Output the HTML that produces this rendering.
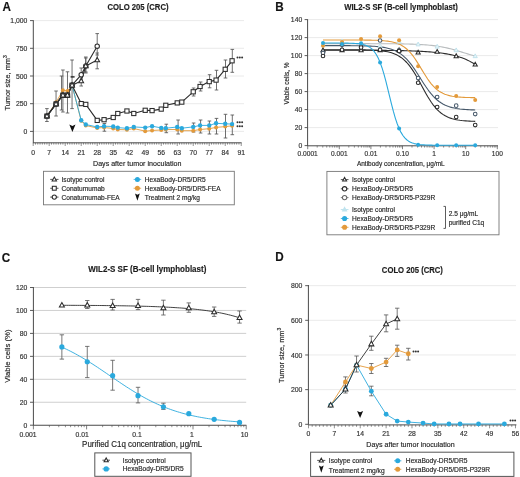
<!DOCTYPE html>
<html><head><meta charset="utf-8"><style>
html,body{margin:0;padding:0;background:#fff;}
svg{display:block;font-family:"Liberation Sans", sans-serif;will-change:transform;}
text{stroke:#333;stroke-width:0.18px;}
</style></head><body>
<svg width="520" height="477" viewBox="0 0 520 477">
<rect width="520" height="477" fill="#fff"/>
<text x="0" y="0" font-size="13" font-weight="bold" fill="#111" transform="translate(2.5 11.2) scale(0.9 1)">A</text>
<text x="0" y="0" font-size="8.56" text-anchor="middle" font-weight="bold" fill="#1a1a1a" transform="translate(138 9.91) scale(0.9 1)" >COLO 205 (CRC)</text>
<line x1="33.5" y1="131.4" x2="244" y2="131.4" stroke="#e4e4e4" stroke-width="0.8" />
<line x1="33.5" y1="103.7" x2="244" y2="103.7" stroke="#e4e4e4" stroke-width="0.8" />
<line x1="33.5" y1="76" x2="244" y2="76" stroke="#e4e4e4" stroke-width="0.8" />
<line x1="33.5" y1="48.3" x2="244" y2="48.3" stroke="#e4e4e4" stroke-width="0.8" />
<line x1="33.5" y1="20.6" x2="244" y2="20.6" stroke="#e4e4e4" stroke-width="0.8" />
<line x1="33.3" y1="20.2" x2="33.3" y2="143.2" stroke="#4a4a4a" stroke-width="1.0" />
<line x1="30" y1="131.4" x2="33.3" y2="131.4" stroke="#4a4a4a" stroke-width="0.9" />
<text x="0" y="0" font-size="7.56" text-anchor="end" font-weight="normal" fill="#333" transform="translate(27.4 133.97) scale(0.9 1)" >0</text>
<line x1="30" y1="103.7" x2="33.3" y2="103.7" stroke="#4a4a4a" stroke-width="0.9" />
<text x="0" y="0" font-size="7.56" text-anchor="end" font-weight="normal" fill="#333" transform="translate(27.4 106.27) scale(0.9 1)" >250</text>
<line x1="30" y1="76" x2="33.3" y2="76" stroke="#4a4a4a" stroke-width="0.9" />
<text x="0" y="0" font-size="7.56" text-anchor="end" font-weight="normal" fill="#333" transform="translate(27.4 78.57) scale(0.9 1)" >500</text>
<line x1="30" y1="48.3" x2="33.3" y2="48.3" stroke="#4a4a4a" stroke-width="0.9" />
<text x="0" y="0" font-size="7.56" text-anchor="end" font-weight="normal" fill="#333" transform="translate(27.4 50.87) scale(0.9 1)" >750</text>
<line x1="30" y1="20.6" x2="33.3" y2="20.6" stroke="#4a4a4a" stroke-width="0.9" />
<text x="0" y="0" font-size="7.56" text-anchor="end" font-weight="normal" fill="#333" transform="translate(27.4 23.17) scale(0.9 1)" >1,000</text>
<line x1="33.3" y1="142.8" x2="241.6" y2="142.8" stroke="#4a4a4a" stroke-width="1.0" />
<line x1="33.2" y1="142.8" x2="33.2" y2="146" stroke="#4a4a4a" stroke-width="0.6" />
<line x1="35.49" y1="142.8" x2="35.49" y2="144.6" stroke="#4a4a4a" stroke-width="0.6" />
<line x1="37.77" y1="142.8" x2="37.77" y2="144.6" stroke="#4a4a4a" stroke-width="0.6" />
<line x1="40.06" y1="142.8" x2="40.06" y2="144.6" stroke="#4a4a4a" stroke-width="0.6" />
<line x1="42.34" y1="142.8" x2="42.34" y2="144.6" stroke="#4a4a4a" stroke-width="0.6" />
<line x1="44.63" y1="142.8" x2="44.63" y2="144.6" stroke="#4a4a4a" stroke-width="0.6" />
<line x1="46.92" y1="142.8" x2="46.92" y2="144.6" stroke="#4a4a4a" stroke-width="0.6" />
<line x1="49.2" y1="142.8" x2="49.2" y2="146" stroke="#4a4a4a" stroke-width="0.6" />
<line x1="51.49" y1="142.8" x2="51.49" y2="144.6" stroke="#4a4a4a" stroke-width="0.6" />
<line x1="53.77" y1="142.8" x2="53.77" y2="144.6" stroke="#4a4a4a" stroke-width="0.6" />
<line x1="56.06" y1="142.8" x2="56.06" y2="144.6" stroke="#4a4a4a" stroke-width="0.6" />
<line x1="58.35" y1="142.8" x2="58.35" y2="144.6" stroke="#4a4a4a" stroke-width="0.6" />
<line x1="60.63" y1="142.8" x2="60.63" y2="144.6" stroke="#4a4a4a" stroke-width="0.6" />
<line x1="62.92" y1="142.8" x2="62.92" y2="144.6" stroke="#4a4a4a" stroke-width="0.6" />
<line x1="65.2" y1="142.8" x2="65.2" y2="146" stroke="#4a4a4a" stroke-width="0.6" />
<line x1="67.49" y1="142.8" x2="67.49" y2="144.6" stroke="#4a4a4a" stroke-width="0.6" />
<line x1="69.78" y1="142.8" x2="69.78" y2="144.6" stroke="#4a4a4a" stroke-width="0.6" />
<line x1="72.06" y1="142.8" x2="72.06" y2="144.6" stroke="#4a4a4a" stroke-width="0.6" />
<line x1="74.35" y1="142.8" x2="74.35" y2="144.6" stroke="#4a4a4a" stroke-width="0.6" />
<line x1="76.63" y1="142.8" x2="76.63" y2="144.6" stroke="#4a4a4a" stroke-width="0.6" />
<line x1="78.92" y1="142.8" x2="78.92" y2="144.6" stroke="#4a4a4a" stroke-width="0.6" />
<line x1="81.21" y1="142.8" x2="81.21" y2="146" stroke="#4a4a4a" stroke-width="0.6" />
<line x1="83.49" y1="142.8" x2="83.49" y2="144.6" stroke="#4a4a4a" stroke-width="0.6" />
<line x1="85.78" y1="142.8" x2="85.78" y2="144.6" stroke="#4a4a4a" stroke-width="0.6" />
<line x1="88.06" y1="142.8" x2="88.06" y2="144.6" stroke="#4a4a4a" stroke-width="0.6" />
<line x1="90.35" y1="142.8" x2="90.35" y2="144.6" stroke="#4a4a4a" stroke-width="0.6" />
<line x1="92.64" y1="142.8" x2="92.64" y2="144.6" stroke="#4a4a4a" stroke-width="0.6" />
<line x1="94.92" y1="142.8" x2="94.92" y2="144.6" stroke="#4a4a4a" stroke-width="0.6" />
<line x1="97.21" y1="142.8" x2="97.21" y2="146" stroke="#4a4a4a" stroke-width="0.6" />
<line x1="99.49" y1="142.8" x2="99.49" y2="144.6" stroke="#4a4a4a" stroke-width="0.6" />
<line x1="101.78" y1="142.8" x2="101.78" y2="144.6" stroke="#4a4a4a" stroke-width="0.6" />
<line x1="104.07" y1="142.8" x2="104.07" y2="144.6" stroke="#4a4a4a" stroke-width="0.6" />
<line x1="106.35" y1="142.8" x2="106.35" y2="144.6" stroke="#4a4a4a" stroke-width="0.6" />
<line x1="108.64" y1="142.8" x2="108.64" y2="144.6" stroke="#4a4a4a" stroke-width="0.6" />
<line x1="110.92" y1="142.8" x2="110.92" y2="144.6" stroke="#4a4a4a" stroke-width="0.6" />
<line x1="113.21" y1="142.8" x2="113.21" y2="146" stroke="#4a4a4a" stroke-width="0.6" />
<line x1="115.5" y1="142.8" x2="115.5" y2="144.6" stroke="#4a4a4a" stroke-width="0.6" />
<line x1="117.78" y1="142.8" x2="117.78" y2="144.6" stroke="#4a4a4a" stroke-width="0.6" />
<line x1="120.07" y1="142.8" x2="120.07" y2="144.6" stroke="#4a4a4a" stroke-width="0.6" />
<line x1="122.35" y1="142.8" x2="122.35" y2="144.6" stroke="#4a4a4a" stroke-width="0.6" />
<line x1="124.64" y1="142.8" x2="124.64" y2="144.6" stroke="#4a4a4a" stroke-width="0.6" />
<line x1="126.93" y1="142.8" x2="126.93" y2="144.6" stroke="#4a4a4a" stroke-width="0.6" />
<line x1="129.21" y1="142.8" x2="129.21" y2="146" stroke="#4a4a4a" stroke-width="0.6" />
<line x1="131.5" y1="142.8" x2="131.5" y2="144.6" stroke="#4a4a4a" stroke-width="0.6" />
<line x1="133.78" y1="142.8" x2="133.78" y2="144.6" stroke="#4a4a4a" stroke-width="0.6" />
<line x1="136.07" y1="142.8" x2="136.07" y2="144.6" stroke="#4a4a4a" stroke-width="0.6" />
<line x1="138.36" y1="142.8" x2="138.36" y2="144.6" stroke="#4a4a4a" stroke-width="0.6" />
<line x1="140.64" y1="142.8" x2="140.64" y2="144.6" stroke="#4a4a4a" stroke-width="0.6" />
<line x1="142.93" y1="142.8" x2="142.93" y2="144.6" stroke="#4a4a4a" stroke-width="0.6" />
<line x1="145.21" y1="142.8" x2="145.21" y2="146" stroke="#4a4a4a" stroke-width="0.6" />
<line x1="147.5" y1="142.8" x2="147.5" y2="144.6" stroke="#4a4a4a" stroke-width="0.6" />
<line x1="149.79" y1="142.8" x2="149.79" y2="144.6" stroke="#4a4a4a" stroke-width="0.6" />
<line x1="152.07" y1="142.8" x2="152.07" y2="144.6" stroke="#4a4a4a" stroke-width="0.6" />
<line x1="154.36" y1="142.8" x2="154.36" y2="144.6" stroke="#4a4a4a" stroke-width="0.6" />
<line x1="156.64" y1="142.8" x2="156.64" y2="144.6" stroke="#4a4a4a" stroke-width="0.6" />
<line x1="158.93" y1="142.8" x2="158.93" y2="144.6" stroke="#4a4a4a" stroke-width="0.6" />
<line x1="161.22" y1="142.8" x2="161.22" y2="146" stroke="#4a4a4a" stroke-width="0.6" />
<line x1="163.5" y1="142.8" x2="163.5" y2="144.6" stroke="#4a4a4a" stroke-width="0.6" />
<line x1="165.79" y1="142.8" x2="165.79" y2="144.6" stroke="#4a4a4a" stroke-width="0.6" />
<line x1="168.07" y1="142.8" x2="168.07" y2="144.6" stroke="#4a4a4a" stroke-width="0.6" />
<line x1="170.36" y1="142.8" x2="170.36" y2="144.6" stroke="#4a4a4a" stroke-width="0.6" />
<line x1="172.65" y1="142.8" x2="172.65" y2="144.6" stroke="#4a4a4a" stroke-width="0.6" />
<line x1="174.93" y1="142.8" x2="174.93" y2="144.6" stroke="#4a4a4a" stroke-width="0.6" />
<line x1="177.22" y1="142.8" x2="177.22" y2="146" stroke="#4a4a4a" stroke-width="0.6" />
<line x1="179.5" y1="142.8" x2="179.5" y2="144.6" stroke="#4a4a4a" stroke-width="0.6" />
<line x1="181.79" y1="142.8" x2="181.79" y2="144.6" stroke="#4a4a4a" stroke-width="0.6" />
<line x1="184.08" y1="142.8" x2="184.08" y2="144.6" stroke="#4a4a4a" stroke-width="0.6" />
<line x1="186.36" y1="142.8" x2="186.36" y2="144.6" stroke="#4a4a4a" stroke-width="0.6" />
<line x1="188.65" y1="142.8" x2="188.65" y2="144.6" stroke="#4a4a4a" stroke-width="0.6" />
<line x1="190.93" y1="142.8" x2="190.93" y2="144.6" stroke="#4a4a4a" stroke-width="0.6" />
<line x1="193.22" y1="142.8" x2="193.22" y2="146" stroke="#4a4a4a" stroke-width="0.6" />
<line x1="195.51" y1="142.8" x2="195.51" y2="144.6" stroke="#4a4a4a" stroke-width="0.6" />
<line x1="197.79" y1="142.8" x2="197.79" y2="144.6" stroke="#4a4a4a" stroke-width="0.6" />
<line x1="200.08" y1="142.8" x2="200.08" y2="144.6" stroke="#4a4a4a" stroke-width="0.6" />
<line x1="202.36" y1="142.8" x2="202.36" y2="144.6" stroke="#4a4a4a" stroke-width="0.6" />
<line x1="204.65" y1="142.8" x2="204.65" y2="144.6" stroke="#4a4a4a" stroke-width="0.6" />
<line x1="206.94" y1="142.8" x2="206.94" y2="144.6" stroke="#4a4a4a" stroke-width="0.6" />
<line x1="209.22" y1="142.8" x2="209.22" y2="146" stroke="#4a4a4a" stroke-width="0.6" />
<line x1="211.51" y1="142.8" x2="211.51" y2="144.6" stroke="#4a4a4a" stroke-width="0.6" />
<line x1="213.79" y1="142.8" x2="213.79" y2="144.6" stroke="#4a4a4a" stroke-width="0.6" />
<line x1="216.08" y1="142.8" x2="216.08" y2="144.6" stroke="#4a4a4a" stroke-width="0.6" />
<line x1="218.37" y1="142.8" x2="218.37" y2="144.6" stroke="#4a4a4a" stroke-width="0.6" />
<line x1="220.65" y1="142.8" x2="220.65" y2="144.6" stroke="#4a4a4a" stroke-width="0.6" />
<line x1="222.94" y1="142.8" x2="222.94" y2="144.6" stroke="#4a4a4a" stroke-width="0.6" />
<line x1="225.22" y1="142.8" x2="225.22" y2="146" stroke="#4a4a4a" stroke-width="0.6" />
<line x1="227.51" y1="142.8" x2="227.51" y2="144.6" stroke="#4a4a4a" stroke-width="0.6" />
<line x1="229.8" y1="142.8" x2="229.8" y2="144.6" stroke="#4a4a4a" stroke-width="0.6" />
<line x1="232.08" y1="142.8" x2="232.08" y2="144.6" stroke="#4a4a4a" stroke-width="0.6" />
<line x1="234.37" y1="142.8" x2="234.37" y2="144.6" stroke="#4a4a4a" stroke-width="0.6" />
<line x1="236.65" y1="142.8" x2="236.65" y2="144.6" stroke="#4a4a4a" stroke-width="0.6" />
<line x1="238.94" y1="142.8" x2="238.94" y2="144.6" stroke="#4a4a4a" stroke-width="0.6" />
<line x1="241.23" y1="142.8" x2="241.23" y2="146" stroke="#4a4a4a" stroke-width="0.6" />
<text x="0" y="0" font-size="7.56" text-anchor="middle" font-weight="normal" fill="#333" transform="translate(33.2 154.77) scale(0.9 1)" >0</text>
<text x="0" y="0" font-size="7.56" text-anchor="middle" font-weight="normal" fill="#333" transform="translate(49.2 154.77) scale(0.9 1)" >7</text>
<text x="0" y="0" font-size="7.56" text-anchor="middle" font-weight="normal" fill="#333" transform="translate(65.2 154.77) scale(0.9 1)" >14</text>
<text x="0" y="0" font-size="7.56" text-anchor="middle" font-weight="normal" fill="#333" transform="translate(81.21 154.77) scale(0.9 1)" >21</text>
<text x="0" y="0" font-size="7.56" text-anchor="middle" font-weight="normal" fill="#333" transform="translate(97.21 154.77) scale(0.9 1)" >28</text>
<text x="0" y="0" font-size="7.56" text-anchor="middle" font-weight="normal" fill="#333" transform="translate(113.21 154.77) scale(0.9 1)" >35</text>
<text x="0" y="0" font-size="7.56" text-anchor="middle" font-weight="normal" fill="#333" transform="translate(129.21 154.77) scale(0.9 1)" >42</text>
<text x="0" y="0" font-size="7.56" text-anchor="middle" font-weight="normal" fill="#333" transform="translate(145.21 154.77) scale(0.9 1)" >49</text>
<text x="0" y="0" font-size="7.56" text-anchor="middle" font-weight="normal" fill="#333" transform="translate(161.22 154.77) scale(0.9 1)" >56</text>
<text x="0" y="0" font-size="7.56" text-anchor="middle" font-weight="normal" fill="#333" transform="translate(177.22 154.77) scale(0.9 1)" >63</text>
<text x="0" y="0" font-size="7.56" text-anchor="middle" font-weight="normal" fill="#333" transform="translate(193.22 154.77) scale(0.9 1)" >70</text>
<text x="0" y="0" font-size="7.56" text-anchor="middle" font-weight="normal" fill="#333" transform="translate(209.22 154.77) scale(0.9 1)" >77</text>
<text x="0" y="0" font-size="7.56" text-anchor="middle" font-weight="normal" fill="#333" transform="translate(225.22 154.77) scale(0.9 1)" >84</text>
<text x="0" y="0" font-size="7.56" text-anchor="middle" font-weight="normal" fill="#333" transform="translate(241.23 154.77) scale(0.9 1)" >91</text>
<text x="0" y="0" font-size="7.89" text-anchor="middle" font-weight="normal" fill="#222" transform="translate(137.2 165.68) scale(0.9 1)" >Days after tumor inoculation</text>
<text x="0" y="0" font-size="7.35" text-anchor="middle" fill="#222" transform="translate(7.4 82.9) rotate(-90) scale(1 0.9)"><tspan dy="2.6">Tumor size, mm</tspan><tspan font-size="5" dy="-2.9">3</tspan></text>
<line x1="46.92" y1="108.6" x2="46.92" y2="121.5" stroke="#555" stroke-width="0.85" />
<line x1="45.12" y1="108.6" x2="48.72" y2="108.6" stroke="#555" stroke-width="0.85" />
<line x1="45.12" y1="121.5" x2="48.72" y2="121.5" stroke="#555" stroke-width="0.85" />
<line x1="56.06" y1="91" x2="56.06" y2="116" stroke="#555" stroke-width="0.85" />
<line x1="54.26" y1="91" x2="57.86" y2="91" stroke="#555" stroke-width="0.85" />
<line x1="54.26" y1="116" x2="57.86" y2="116" stroke="#555" stroke-width="0.85" />
<line x1="62.92" y1="70" x2="62.92" y2="112" stroke="#555" stroke-width="0.85" />
<line x1="61.12" y1="70" x2="64.72" y2="70" stroke="#555" stroke-width="0.85" />
<line x1="61.12" y1="112" x2="64.72" y2="112" stroke="#555" stroke-width="0.85" />
<line x1="67.49" y1="71.8" x2="67.49" y2="113" stroke="#555" stroke-width="0.85" />
<line x1="65.69" y1="71.8" x2="69.29" y2="71.8" stroke="#555" stroke-width="0.85" />
<line x1="65.69" y1="113" x2="69.29" y2="113" stroke="#555" stroke-width="0.85" />
<line x1="72.06" y1="60" x2="72.06" y2="108.6" stroke="#555" stroke-width="0.85" />
<line x1="70.26" y1="60" x2="73.86" y2="60" stroke="#555" stroke-width="0.85" />
<line x1="70.26" y1="108.6" x2="73.86" y2="108.6" stroke="#555" stroke-width="0.85" />
<line x1="81.21" y1="75" x2="81.21" y2="86" stroke="#555" stroke-width="0.85" />
<line x1="79.41" y1="75" x2="83.01" y2="75" stroke="#555" stroke-width="0.85" />
<line x1="79.41" y1="86" x2="83.01" y2="86" stroke="#555" stroke-width="0.85" />
<line x1="85.78" y1="57" x2="85.78" y2="73" stroke="#555" stroke-width="0.85" />
<line x1="83.98" y1="57" x2="87.58" y2="57" stroke="#555" stroke-width="0.85" />
<line x1="83.98" y1="73" x2="87.58" y2="73" stroke="#555" stroke-width="0.85" />
<line x1="97.21" y1="53" x2="97.21" y2="68.8" stroke="#555" stroke-width="0.85" />
<line x1="95.41" y1="53" x2="99.01" y2="53" stroke="#555" stroke-width="0.85" />
<line x1="95.41" y1="68.8" x2="99.01" y2="68.8" stroke="#555" stroke-width="0.85" />
<line x1="61.52" y1="76" x2="61.52" y2="110" stroke="#555" stroke-width="0.85" />
<line x1="59.72" y1="76" x2="63.32" y2="76" stroke="#555" stroke-width="0.85" />
<line x1="59.72" y1="110" x2="63.32" y2="110" stroke="#555" stroke-width="0.85" />
<line x1="97.21" y1="33.6" x2="97.21" y2="55" stroke="#555" stroke-width="0.85" />
<line x1="95.41" y1="33.6" x2="99.01" y2="33.6" stroke="#555" stroke-width="0.85" />
<line x1="95.41" y1="55" x2="99.01" y2="55" stroke="#555" stroke-width="0.85" />
<line x1="81.21" y1="68" x2="81.21" y2="80" stroke="#555" stroke-width="0.85" />
<line x1="79.41" y1="68" x2="83.01" y2="68" stroke="#555" stroke-width="0.85" />
<line x1="79.41" y1="80" x2="83.01" y2="80" stroke="#555" stroke-width="0.85" />
<line x1="85.78" y1="58" x2="85.78" y2="72" stroke="#555" stroke-width="0.85" />
<line x1="83.98" y1="58" x2="87.58" y2="58" stroke="#555" stroke-width="0.85" />
<line x1="83.98" y1="72" x2="87.58" y2="72" stroke="#555" stroke-width="0.85" />
<line x1="209.6" y1="74.7" x2="209.6" y2="87.8" stroke="#555" stroke-width="0.85" />
<line x1="207.8" y1="74.7" x2="211.4" y2="74.7" stroke="#555" stroke-width="0.85" />
<line x1="207.8" y1="87.8" x2="211.4" y2="87.8" stroke="#555" stroke-width="0.85" />
<line x1="216.5" y1="70.3" x2="216.5" y2="90" stroke="#555" stroke-width="0.85" />
<line x1="214.7" y1="70.3" x2="218.3" y2="70.3" stroke="#555" stroke-width="0.85" />
<line x1="214.7" y1="90" x2="218.3" y2="90" stroke="#555" stroke-width="0.85" />
<line x1="225.5" y1="60" x2="225.5" y2="78" stroke="#555" stroke-width="0.85" />
<line x1="223.7" y1="60" x2="227.3" y2="60" stroke="#555" stroke-width="0.85" />
<line x1="223.7" y1="78" x2="227.3" y2="78" stroke="#555" stroke-width="0.85" />
<line x1="232.3" y1="49.4" x2="232.3" y2="72.3" stroke="#555" stroke-width="0.85" />
<line x1="230.5" y1="49.4" x2="234.1" y2="49.4" stroke="#555" stroke-width="0.85" />
<line x1="230.5" y1="72.3" x2="234.1" y2="72.3" stroke="#555" stroke-width="0.85" />
<line x1="200.6" y1="82" x2="200.6" y2="91" stroke="#555" stroke-width="0.85" />
<line x1="198.8" y1="82" x2="202.4" y2="82" stroke="#555" stroke-width="0.85" />
<line x1="198.8" y1="91" x2="202.4" y2="91" stroke="#555" stroke-width="0.85" />
<line x1="193.6" y1="88" x2="193.6" y2="96" stroke="#555" stroke-width="0.85" />
<line x1="191.8" y1="88" x2="195.4" y2="88" stroke="#555" stroke-width="0.85" />
<line x1="191.8" y1="96" x2="195.4" y2="96" stroke="#555" stroke-width="0.85" />
<line x1="225.5" y1="114.3" x2="225.5" y2="138" stroke="#555" stroke-width="0.85" />
<line x1="223.7" y1="114.3" x2="227.3" y2="114.3" stroke="#555" stroke-width="0.85" />
<line x1="223.7" y1="138" x2="227.3" y2="138" stroke="#555" stroke-width="0.85" />
<line x1="232.3" y1="115" x2="232.3" y2="134.7" stroke="#555" stroke-width="0.85" />
<line x1="230.5" y1="115" x2="234.1" y2="115" stroke="#555" stroke-width="0.85" />
<line x1="230.5" y1="134.7" x2="234.1" y2="134.7" stroke="#555" stroke-width="0.85" />
<line x1="216.5" y1="118.4" x2="216.5" y2="134" stroke="#555" stroke-width="0.85" />
<line x1="214.7" y1="118.4" x2="218.3" y2="118.4" stroke="#555" stroke-width="0.85" />
<line x1="214.7" y1="134" x2="218.3" y2="134" stroke="#555" stroke-width="0.85" />
<line x1="209.4" y1="121" x2="209.4" y2="134" stroke="#555" stroke-width="0.85" />
<line x1="207.6" y1="121" x2="211.2" y2="121" stroke="#555" stroke-width="0.85" />
<line x1="207.6" y1="134" x2="211.2" y2="134" stroke="#555" stroke-width="0.85" />
<line x1="200.6" y1="120" x2="200.6" y2="133" stroke="#555" stroke-width="0.85" />
<line x1="198.8" y1="120" x2="202.4" y2="120" stroke="#555" stroke-width="0.85" />
<line x1="198.8" y1="133" x2="202.4" y2="133" stroke="#555" stroke-width="0.85" />
<line x1="178.1" y1="120" x2="178.1" y2="134" stroke="#555" stroke-width="0.85" />
<line x1="176.3" y1="120" x2="179.9" y2="120" stroke="#555" stroke-width="0.85" />
<line x1="176.3" y1="134" x2="179.9" y2="134" stroke="#555" stroke-width="0.85" />
<line x1="166.3" y1="124.2" x2="166.3" y2="132.7" stroke="#555" stroke-width="0.85" />
<line x1="164.5" y1="124.2" x2="168.1" y2="124.2" stroke="#555" stroke-width="0.85" />
<line x1="164.5" y1="132.7" x2="168.1" y2="132.7" stroke="#555" stroke-width="0.85" />
<line x1="104.4" y1="123.5" x2="104.4" y2="131.2" stroke="#555" stroke-width="0.85" />
<line x1="102.6" y1="123.5" x2="106.2" y2="123.5" stroke="#555" stroke-width="0.85" />
<line x1="102.6" y1="131.2" x2="106.2" y2="131.2" stroke="#555" stroke-width="0.85" />
<line x1="193.6" y1="123" x2="193.6" y2="132" stroke="#555" stroke-width="0.85" />
<line x1="191.8" y1="123" x2="195.4" y2="123" stroke="#555" stroke-width="0.85" />
<line x1="191.8" y1="132" x2="195.4" y2="132" stroke="#555" stroke-width="0.85" />
<polyline points="46.92,116.11 56.06,102.37 62.92,90.18 67.49,90.96 72.06,85.2 81.21,120.8 85.78,125.5 97.21,128 104.07,127.5 113.21,128.5 117.78,129.5 126.93,129.8 133.78,128.5 145.21,131.2 152.07,130.5 161.22,130 165.79,129.5 177.22,129.5 181.79,130.7 193.22,130.7 200.08,129.5 209.22,128.7 216.08,127.4 225.22,126.6 232.08,125.8" fill="none" stroke="#e39a3b" stroke-width="0.9" stroke-linejoin="round" />
<polyline points="46.92,116.11 56.06,103.92 62.92,95.17 67.49,95.17 72.06,85.2 81.21,120.3 85.78,124.5 97.21,127 104.07,126.2 113.21,126.5 117.78,127.6 126.93,128.3 133.78,126.9 145.21,127.6 152.07,126.2 161.22,127.9 165.79,128.2 177.22,127 181.79,128.2 193.22,126.9 200.08,125.4 209.22,125.4 216.08,123.3 225.22,123.8 232.08,124.1" fill="none" stroke="#2aa9dd" stroke-width="0.9" stroke-linejoin="round" />
<polyline points="46.92,116.11 56.06,103.92 62.92,95.17 67.49,95.17 72.06,85.2 81.21,80.99 85.78,65.92 97.21,60.04" fill="none" stroke="#2b2b2b" stroke-width="1.1" stroke-linejoin="round" />
<polyline points="46.92,116.11 56.06,103.92 62.92,95.17 67.49,95.17 72.06,85.2 81.21,74.78 85.78,65.92 97.21,46.19" fill="none" stroke="#2b2b2b" stroke-width="1.1" stroke-linejoin="round" />
<polyline points="46.92,116.11 56.06,103.92 62.92,95.17 67.49,95.17 72.06,85.2 81.21,103.6 85.78,104.4 97.21,120.4 104.07,119.7 113.21,117.5 117.78,113.5 126.93,111 133.78,113.5 145.21,110.3 152.07,110.6 161.22,109.1 165.79,105.3 177.22,102.9 181.79,102.1 193.22,91.8 200.08,86.5 209.22,81.6 216.08,80.1 225.22,69.3 232.08,60.8" fill="none" stroke="#2b2b2b" stroke-width="1.1" stroke-linejoin="round" />
<circle cx="46.92" cy="116.11" r="2" fill="#e39a3b"/>
<circle cx="56.06" cy="102.37" r="2" fill="#e39a3b"/>
<circle cx="62.92" cy="90.18" r="2" fill="#e39a3b"/>
<circle cx="67.49" cy="90.96" r="2" fill="#e39a3b"/>
<circle cx="72.06" cy="85.2" r="2" fill="#e39a3b"/>
<circle cx="81.21" cy="120.8" r="2" fill="#e39a3b"/>
<circle cx="85.78" cy="125.5" r="2" fill="#e39a3b"/>
<circle cx="97.21" cy="128" r="2" fill="#e39a3b"/>
<circle cx="104.07" cy="127.5" r="2" fill="#e39a3b"/>
<circle cx="113.21" cy="128.5" r="2" fill="#e39a3b"/>
<circle cx="117.78" cy="129.5" r="2" fill="#e39a3b"/>
<circle cx="126.93" cy="129.8" r="2" fill="#e39a3b"/>
<circle cx="133.78" cy="128.5" r="2" fill="#e39a3b"/>
<circle cx="145.21" cy="131.2" r="2" fill="#e39a3b"/>
<circle cx="152.07" cy="130.5" r="2" fill="#e39a3b"/>
<circle cx="161.22" cy="130" r="2" fill="#e39a3b"/>
<circle cx="165.79" cy="129.5" r="2" fill="#e39a3b"/>
<circle cx="177.22" cy="129.5" r="2" fill="#e39a3b"/>
<circle cx="181.79" cy="130.7" r="2" fill="#e39a3b"/>
<circle cx="193.22" cy="130.7" r="2" fill="#e39a3b"/>
<circle cx="200.08" cy="129.5" r="2" fill="#e39a3b"/>
<circle cx="209.22" cy="128.7" r="2" fill="#e39a3b"/>
<circle cx="216.08" cy="127.4" r="2" fill="#e39a3b"/>
<circle cx="225.22" cy="126.6" r="2" fill="#e39a3b"/>
<circle cx="232.08" cy="125.8" r="2" fill="#e39a3b"/>
<circle cx="46.92" cy="116.11" r="2.2" fill="#2aa9dd"/>
<circle cx="56.06" cy="103.92" r="2.2" fill="#2aa9dd"/>
<circle cx="62.92" cy="95.17" r="2.2" fill="#2aa9dd"/>
<circle cx="67.49" cy="95.17" r="2.2" fill="#2aa9dd"/>
<circle cx="72.06" cy="85.2" r="2.2" fill="#2aa9dd"/>
<circle cx="81.21" cy="120.3" r="2.2" fill="#2aa9dd"/>
<circle cx="85.78" cy="124.5" r="2.2" fill="#2aa9dd"/>
<circle cx="97.21" cy="127" r="2.2" fill="#2aa9dd"/>
<circle cx="104.07" cy="126.2" r="2.2" fill="#2aa9dd"/>
<circle cx="113.21" cy="126.5" r="2.2" fill="#2aa9dd"/>
<circle cx="117.78" cy="127.6" r="2.2" fill="#2aa9dd"/>
<circle cx="126.93" cy="128.3" r="2.2" fill="#2aa9dd"/>
<circle cx="133.78" cy="126.9" r="2.2" fill="#2aa9dd"/>
<circle cx="145.21" cy="127.6" r="2.2" fill="#2aa9dd"/>
<circle cx="152.07" cy="126.2" r="2.2" fill="#2aa9dd"/>
<circle cx="161.22" cy="127.9" r="2.2" fill="#2aa9dd"/>
<circle cx="165.79" cy="128.2" r="2.2" fill="#2aa9dd"/>
<circle cx="177.22" cy="127" r="2.2" fill="#2aa9dd"/>
<circle cx="181.79" cy="128.2" r="2.2" fill="#2aa9dd"/>
<circle cx="193.22" cy="126.9" r="2.2" fill="#2aa9dd"/>
<circle cx="200.08" cy="125.4" r="2.2" fill="#2aa9dd"/>
<circle cx="209.22" cy="125.4" r="2.2" fill="#2aa9dd"/>
<circle cx="216.08" cy="123.3" r="2.2" fill="#2aa9dd"/>
<circle cx="225.22" cy="123.8" r="2.2" fill="#2aa9dd"/>
<circle cx="232.08" cy="124.1" r="2.2" fill="#2aa9dd"/>
<rect x="44.82" y="114.01" width="4.2" height="4.2" fill="#fff" stroke="#2b2b2b" stroke-width="1.05"/>
<rect x="53.96" y="101.82" width="4.2" height="4.2" fill="#fff" stroke="#2b2b2b" stroke-width="1.05"/>
<rect x="60.82" y="93.07" width="4.2" height="4.2" fill="#fff" stroke="#2b2b2b" stroke-width="1.05"/>
<rect x="65.39" y="93.07" width="4.2" height="4.2" fill="#fff" stroke="#2b2b2b" stroke-width="1.05"/>
<rect x="69.96" y="83.1" width="4.2" height="4.2" fill="#fff" stroke="#2b2b2b" stroke-width="1.05"/>
<rect x="79.11" y="101.5" width="4.2" height="4.2" fill="#fff" stroke="#2b2b2b" stroke-width="1.05"/>
<rect x="83.68" y="102.3" width="4.2" height="4.2" fill="#fff" stroke="#2b2b2b" stroke-width="1.05"/>
<rect x="95.11" y="118.3" width="4.2" height="4.2" fill="#fff" stroke="#2b2b2b" stroke-width="1.05"/>
<rect x="101.97" y="117.6" width="4.2" height="4.2" fill="#fff" stroke="#2b2b2b" stroke-width="1.05"/>
<rect x="111.11" y="115.4" width="4.2" height="4.2" fill="#fff" stroke="#2b2b2b" stroke-width="1.05"/>
<rect x="115.68" y="111.4" width="4.2" height="4.2" fill="#fff" stroke="#2b2b2b" stroke-width="1.05"/>
<rect x="124.83" y="108.9" width="4.2" height="4.2" fill="#fff" stroke="#2b2b2b" stroke-width="1.05"/>
<rect x="131.68" y="111.4" width="4.2" height="4.2" fill="#fff" stroke="#2b2b2b" stroke-width="1.05"/>
<rect x="143.11" y="108.2" width="4.2" height="4.2" fill="#fff" stroke="#2b2b2b" stroke-width="1.05"/>
<rect x="149.97" y="108.5" width="4.2" height="4.2" fill="#fff" stroke="#2b2b2b" stroke-width="1.05"/>
<rect x="159.12" y="107" width="4.2" height="4.2" fill="#fff" stroke="#2b2b2b" stroke-width="1.05"/>
<rect x="163.69" y="103.2" width="4.2" height="4.2" fill="#fff" stroke="#2b2b2b" stroke-width="1.05"/>
<rect x="175.12" y="100.8" width="4.2" height="4.2" fill="#fff" stroke="#2b2b2b" stroke-width="1.05"/>
<rect x="179.69" y="100" width="4.2" height="4.2" fill="#fff" stroke="#2b2b2b" stroke-width="1.05"/>
<rect x="191.12" y="89.7" width="4.2" height="4.2" fill="#fff" stroke="#2b2b2b" stroke-width="1.05"/>
<rect x="197.98" y="84.4" width="4.2" height="4.2" fill="#fff" stroke="#2b2b2b" stroke-width="1.05"/>
<rect x="207.12" y="79.5" width="4.2" height="4.2" fill="#fff" stroke="#2b2b2b" stroke-width="1.05"/>
<rect x="213.98" y="78" width="4.2" height="4.2" fill="#fff" stroke="#2b2b2b" stroke-width="1.05"/>
<rect x="223.12" y="67.2" width="4.2" height="4.2" fill="#fff" stroke="#2b2b2b" stroke-width="1.05"/>
<rect x="229.98" y="58.7" width="4.2" height="4.2" fill="#fff" stroke="#2b2b2b" stroke-width="1.05"/>
<circle cx="46.92" cy="116.11" r="2.2" fill="#fff" stroke="#2b2b2b" stroke-width="1.05"/>
<circle cx="56.06" cy="103.92" r="2.2" fill="#fff" stroke="#2b2b2b" stroke-width="1.05"/>
<circle cx="62.92" cy="95.17" r="2.2" fill="#fff" stroke="#2b2b2b" stroke-width="1.05"/>
<circle cx="67.49" cy="95.17" r="2.2" fill="#fff" stroke="#2b2b2b" stroke-width="1.05"/>
<circle cx="72.06" cy="85.2" r="2.2" fill="#fff" stroke="#2b2b2b" stroke-width="1.05"/>
<circle cx="81.21" cy="74.78" r="2.2" fill="#fff" stroke="#2b2b2b" stroke-width="1.05"/>
<circle cx="85.78" cy="65.92" r="2.2" fill="#fff" stroke="#2b2b2b" stroke-width="1.05"/>
<circle cx="97.21" cy="46.19" r="2.2" fill="#fff" stroke="#2b2b2b" stroke-width="1.05"/>
<polygon points="46.92,113.52 49.32,117.84 44.52,117.84" fill="#fff" stroke="#2b2b2b" stroke-width="1.05" stroke-linejoin="miter"/>
<polygon points="56.06,101.33 58.46,105.65 53.66,105.65" fill="#fff" stroke="#2b2b2b" stroke-width="1.05" stroke-linejoin="miter"/>
<polygon points="62.92,92.58 65.32,96.9 60.52,96.9" fill="#fff" stroke="#2b2b2b" stroke-width="1.05" stroke-linejoin="miter"/>
<polygon points="67.49,92.58 69.89,96.9 65.09,96.9" fill="#fff" stroke="#2b2b2b" stroke-width="1.05" stroke-linejoin="miter"/>
<polygon points="72.06,82.6 74.46,86.92 69.66,86.92" fill="#fff" stroke="#2b2b2b" stroke-width="1.05" stroke-linejoin="miter"/>
<polygon points="81.21,78.39 83.61,82.71 78.81,82.71" fill="#fff" stroke="#2b2b2b" stroke-width="1.05" stroke-linejoin="miter"/>
<polygon points="85.78,63.33 88.18,67.65 83.38,67.65" fill="#fff" stroke="#2b2b2b" stroke-width="1.05" stroke-linejoin="miter"/>
<polygon points="97.21,57.45 99.61,61.77 94.81,61.77" fill="#fff" stroke="#2b2b2b" stroke-width="1.05" stroke-linejoin="miter"/>
<path d="M69.3,124.6 L72.4,126.1 L75.5,124.6 L72.4,132 Z" fill="#111"/>
<line x1="70.6" y1="76.9" x2="74.6" y2="76.9" stroke="#222" stroke-width="1.4" />
<circle cx="237.5" cy="57.6" r="1" fill="#333"/>
<circle cx="239.8" cy="57.6" r="1" fill="#333"/>
<circle cx="242.1" cy="57.6" r="1" fill="#333"/>
<circle cx="237.5" cy="122.2" r="1" fill="#333"/>
<circle cx="239.8" cy="122.2" r="1" fill="#333"/>
<circle cx="242.1" cy="122.2" r="1" fill="#333"/>
<circle cx="237.5" cy="126.2" r="1" fill="#333"/>
<circle cx="239.8" cy="126.2" r="1" fill="#333"/>
<circle cx="242.1" cy="126.2" r="1" fill="#333"/>
<rect x="43.5" y="171.3" width="190.8" height="33.5" fill="none" stroke="#777" stroke-width="0.9"/>
<line x1="50.2" y1="179.4" x2="58.5" y2="179.4" stroke="#2b2b2b" stroke-width="0.8" />
<polygon points="54.3,177.02 56.5,180.98 52.1,180.98" fill="#fff" stroke="#2b2b2b" stroke-width="1.05" stroke-linejoin="miter"/>
<text x="0" y="0" font-size="7.33" text-anchor="start" font-weight="normal" fill="#222" transform="translate(61.5 181.96) scale(0.9 1)" >Isotype control</text>
<line x1="50.2" y1="188.25" x2="58.5" y2="188.25" stroke="#2b2b2b" stroke-width="0.8" />
<rect x="52.35" y="186.3" width="3.9" height="3.9" fill="#fff" stroke="#2b2b2b" stroke-width="1.05"/>
<text x="0" y="0" font-size="7.33" text-anchor="start" font-weight="normal" fill="#222" transform="translate(61.5 190.81) scale(0.9 1)" >Conatumumab</text>
<line x1="50.2" y1="197.1" x2="58.5" y2="197.1" stroke="#2b2b2b" stroke-width="0.8" />
<circle cx="54.3" cy="197.1" r="2.1" fill="#fff" stroke="#2b2b2b" stroke-width="1.05"/>
<text x="0" y="0" font-size="7.33" text-anchor="start" font-weight="normal" fill="#222" transform="translate(61.5 199.66) scale(0.9 1)" >Conatumumab-FEA</text>
<line x1="133.6" y1="179.4" x2="141.2" y2="179.4" stroke="#2aa9dd" stroke-width="0.8" />
<circle cx="137.4" cy="179.4" r="2.5" fill="#2aa9dd"/>
<text x="0" y="0" font-size="7.33" text-anchor="start" font-weight="normal" fill="#222" transform="translate(144.8 181.96) scale(0.9 1)" >HexaBody-DR5/DR5</text>
<line x1="133.6" y1="188.25" x2="141.2" y2="188.25" stroke="#e39a3b" stroke-width="0.8" />
<circle cx="137.4" cy="188.25" r="2.5" fill="#e39a3b"/>
<text x="0" y="0" font-size="7.33" text-anchor="start" font-weight="normal" fill="#222" transform="translate(144.8 190.81) scale(0.9 1)" >HexaBody-DR5/DR5-FEA</text>
<path d="M135,193.5 L137.4,194.7 L139.8,193.5 L137.4,200.7 Z" fill="#111"/>
<text x="0" y="0" font-size="7.33" text-anchor="start" font-weight="normal" fill="#222" transform="translate(144.8 199.66) scale(0.9 1)" >Treatment 2 mg/kg</text>
<text x="0" y="0" font-size="13" font-weight="bold" fill="#111" transform="translate(275.3 11.1) scale(0.9 1)">B</text>
<text x="0" y="0" font-size="8.56" text-anchor="middle" font-weight="bold" fill="#1a1a1a" transform="translate(401 9.81) scale(0.9 1)" >WIL2-S SF (B-cell lymphoblast)</text>
<line x1="308" y1="127.6" x2="498" y2="127.6" stroke="#e4e4e4" stroke-width="0.8" />
<line x1="308" y1="109.6" x2="498" y2="109.6" stroke="#e4e4e4" stroke-width="0.8" />
<line x1="308" y1="91.6" x2="498" y2="91.6" stroke="#e4e4e4" stroke-width="0.8" />
<line x1="308" y1="73.6" x2="498" y2="73.6" stroke="#e4e4e4" stroke-width="0.8" />
<line x1="308" y1="55.6" x2="498" y2="55.6" stroke="#e4e4e4" stroke-width="0.8" />
<line x1="308" y1="37.6" x2="498" y2="37.6" stroke="#e4e4e4" stroke-width="0.8" />
<line x1="308" y1="19.6" x2="498" y2="19.6" stroke="#e4e4e4" stroke-width="0.8" />
<line x1="307.6" y1="19.2" x2="307.6" y2="146" stroke="#4a4a4a" stroke-width="1.0" />
<line x1="304.6" y1="145.6" x2="307.6" y2="145.6" stroke="#4a4a4a" stroke-width="0.9" />
<text x="0" y="0" font-size="7.56" text-anchor="end" font-weight="normal" fill="#333" transform="translate(302.2 148.17) scale(0.9 1)" >0</text>
<line x1="304.6" y1="127.6" x2="307.6" y2="127.6" stroke="#4a4a4a" stroke-width="0.9" />
<text x="0" y="0" font-size="7.56" text-anchor="end" font-weight="normal" fill="#333" transform="translate(302.2 130.17) scale(0.9 1)" >20</text>
<line x1="304.6" y1="109.6" x2="307.6" y2="109.6" stroke="#4a4a4a" stroke-width="0.9" />
<text x="0" y="0" font-size="7.56" text-anchor="end" font-weight="normal" fill="#333" transform="translate(302.2 112.17) scale(0.9 1)" >40</text>
<line x1="304.6" y1="91.6" x2="307.6" y2="91.6" stroke="#4a4a4a" stroke-width="0.9" />
<text x="0" y="0" font-size="7.56" text-anchor="end" font-weight="normal" fill="#333" transform="translate(302.2 94.17) scale(0.9 1)" >60</text>
<line x1="304.6" y1="73.6" x2="307.6" y2="73.6" stroke="#4a4a4a" stroke-width="0.9" />
<text x="0" y="0" font-size="7.56" text-anchor="end" font-weight="normal" fill="#333" transform="translate(302.2 76.17) scale(0.9 1)" >80</text>
<line x1="304.6" y1="55.6" x2="307.6" y2="55.6" stroke="#4a4a4a" stroke-width="0.9" />
<text x="0" y="0" font-size="7.56" text-anchor="end" font-weight="normal" fill="#333" transform="translate(302.2 58.17) scale(0.9 1)" >100</text>
<line x1="304.6" y1="37.6" x2="307.6" y2="37.6" stroke="#4a4a4a" stroke-width="0.9" />
<text x="0" y="0" font-size="7.56" text-anchor="end" font-weight="normal" fill="#333" transform="translate(302.2 40.17) scale(0.9 1)" >120</text>
<line x1="304.6" y1="19.6" x2="307.6" y2="19.6" stroke="#4a4a4a" stroke-width="0.9" />
<text x="0" y="0" font-size="7.56" text-anchor="end" font-weight="normal" fill="#333" transform="translate(302.2 22.17) scale(0.9 1)" >140</text>
<line x1="307.6" y1="145.8" x2="498" y2="145.8" stroke="#4a4a4a" stroke-width="1.0" />
<line x1="307.7" y1="145.8" x2="307.7" y2="149.2" stroke="#4a4a4a" stroke-width="0.7" />
<line x1="317.21" y1="145.8" x2="317.21" y2="147.6" stroke="#4a4a4a" stroke-width="0.6" />
<line x1="322.78" y1="145.8" x2="322.78" y2="147.6" stroke="#4a4a4a" stroke-width="0.6" />
<line x1="326.73" y1="145.8" x2="326.73" y2="147.6" stroke="#4a4a4a" stroke-width="0.6" />
<line x1="329.79" y1="145.8" x2="329.79" y2="147.6" stroke="#4a4a4a" stroke-width="0.6" />
<line x1="332.29" y1="145.8" x2="332.29" y2="147.6" stroke="#4a4a4a" stroke-width="0.6" />
<line x1="334.41" y1="145.8" x2="334.41" y2="147.6" stroke="#4a4a4a" stroke-width="0.6" />
<line x1="336.24" y1="145.8" x2="336.24" y2="147.6" stroke="#4a4a4a" stroke-width="0.6" />
<line x1="337.85" y1="145.8" x2="337.85" y2="147.6" stroke="#4a4a4a" stroke-width="0.6" />
<line x1="339.3" y1="145.8" x2="339.3" y2="149.2" stroke="#4a4a4a" stroke-width="0.7" />
<line x1="348.81" y1="145.8" x2="348.81" y2="147.6" stroke="#4a4a4a" stroke-width="0.6" />
<line x1="354.38" y1="145.8" x2="354.38" y2="147.6" stroke="#4a4a4a" stroke-width="0.6" />
<line x1="358.33" y1="145.8" x2="358.33" y2="147.6" stroke="#4a4a4a" stroke-width="0.6" />
<line x1="361.39" y1="145.8" x2="361.39" y2="147.6" stroke="#4a4a4a" stroke-width="0.6" />
<line x1="363.89" y1="145.8" x2="363.89" y2="147.6" stroke="#4a4a4a" stroke-width="0.6" />
<line x1="366.01" y1="145.8" x2="366.01" y2="147.6" stroke="#4a4a4a" stroke-width="0.6" />
<line x1="367.84" y1="145.8" x2="367.84" y2="147.6" stroke="#4a4a4a" stroke-width="0.6" />
<line x1="369.45" y1="145.8" x2="369.45" y2="147.6" stroke="#4a4a4a" stroke-width="0.6" />
<line x1="370.9" y1="145.8" x2="370.9" y2="149.2" stroke="#4a4a4a" stroke-width="0.7" />
<line x1="380.41" y1="145.8" x2="380.41" y2="147.6" stroke="#4a4a4a" stroke-width="0.6" />
<line x1="385.98" y1="145.8" x2="385.98" y2="147.6" stroke="#4a4a4a" stroke-width="0.6" />
<line x1="389.93" y1="145.8" x2="389.93" y2="147.6" stroke="#4a4a4a" stroke-width="0.6" />
<line x1="392.99" y1="145.8" x2="392.99" y2="147.6" stroke="#4a4a4a" stroke-width="0.6" />
<line x1="395.49" y1="145.8" x2="395.49" y2="147.6" stroke="#4a4a4a" stroke-width="0.6" />
<line x1="397.61" y1="145.8" x2="397.61" y2="147.6" stroke="#4a4a4a" stroke-width="0.6" />
<line x1="399.44" y1="145.8" x2="399.44" y2="147.6" stroke="#4a4a4a" stroke-width="0.6" />
<line x1="401.05" y1="145.8" x2="401.05" y2="147.6" stroke="#4a4a4a" stroke-width="0.6" />
<line x1="402.5" y1="145.8" x2="402.5" y2="149.2" stroke="#4a4a4a" stroke-width="0.7" />
<line x1="412.01" y1="145.8" x2="412.01" y2="147.6" stroke="#4a4a4a" stroke-width="0.6" />
<line x1="417.58" y1="145.8" x2="417.58" y2="147.6" stroke="#4a4a4a" stroke-width="0.6" />
<line x1="421.53" y1="145.8" x2="421.53" y2="147.6" stroke="#4a4a4a" stroke-width="0.6" />
<line x1="424.59" y1="145.8" x2="424.59" y2="147.6" stroke="#4a4a4a" stroke-width="0.6" />
<line x1="427.09" y1="145.8" x2="427.09" y2="147.6" stroke="#4a4a4a" stroke-width="0.6" />
<line x1="429.21" y1="145.8" x2="429.21" y2="147.6" stroke="#4a4a4a" stroke-width="0.6" />
<line x1="431.04" y1="145.8" x2="431.04" y2="147.6" stroke="#4a4a4a" stroke-width="0.6" />
<line x1="432.65" y1="145.8" x2="432.65" y2="147.6" stroke="#4a4a4a" stroke-width="0.6" />
<line x1="434.1" y1="145.8" x2="434.1" y2="149.2" stroke="#4a4a4a" stroke-width="0.7" />
<line x1="443.61" y1="145.8" x2="443.61" y2="147.6" stroke="#4a4a4a" stroke-width="0.6" />
<line x1="449.18" y1="145.8" x2="449.18" y2="147.6" stroke="#4a4a4a" stroke-width="0.6" />
<line x1="453.13" y1="145.8" x2="453.13" y2="147.6" stroke="#4a4a4a" stroke-width="0.6" />
<line x1="456.19" y1="145.8" x2="456.19" y2="147.6" stroke="#4a4a4a" stroke-width="0.6" />
<line x1="458.69" y1="145.8" x2="458.69" y2="147.6" stroke="#4a4a4a" stroke-width="0.6" />
<line x1="460.81" y1="145.8" x2="460.81" y2="147.6" stroke="#4a4a4a" stroke-width="0.6" />
<line x1="462.64" y1="145.8" x2="462.64" y2="147.6" stroke="#4a4a4a" stroke-width="0.6" />
<line x1="464.25" y1="145.8" x2="464.25" y2="147.6" stroke="#4a4a4a" stroke-width="0.6" />
<line x1="465.7" y1="145.8" x2="465.7" y2="149.2" stroke="#4a4a4a" stroke-width="0.7" />
<line x1="475.21" y1="145.8" x2="475.21" y2="147.6" stroke="#4a4a4a" stroke-width="0.6" />
<line x1="480.78" y1="145.8" x2="480.78" y2="147.6" stroke="#4a4a4a" stroke-width="0.6" />
<line x1="484.73" y1="145.8" x2="484.73" y2="147.6" stroke="#4a4a4a" stroke-width="0.6" />
<line x1="487.79" y1="145.8" x2="487.79" y2="147.6" stroke="#4a4a4a" stroke-width="0.6" />
<line x1="490.29" y1="145.8" x2="490.29" y2="147.6" stroke="#4a4a4a" stroke-width="0.6" />
<line x1="492.41" y1="145.8" x2="492.41" y2="147.6" stroke="#4a4a4a" stroke-width="0.6" />
<line x1="494.24" y1="145.8" x2="494.24" y2="147.6" stroke="#4a4a4a" stroke-width="0.6" />
<line x1="495.85" y1="145.8" x2="495.85" y2="147.6" stroke="#4a4a4a" stroke-width="0.6" />
<line x1="497.3" y1="145.8" x2="497.3" y2="149.2" stroke="#4a4a4a" stroke-width="0.7" />
<text x="0" y="0" font-size="7.33" text-anchor="middle" font-weight="normal" fill="#333" transform="translate(307.7 156.16) scale(0.9 1)" >0.0001</text>
<text x="0" y="0" font-size="7.33" text-anchor="middle" font-weight="normal" fill="#333" transform="translate(339.3 156.16) scale(0.9 1)" >0.001</text>
<text x="0" y="0" font-size="7.33" text-anchor="middle" font-weight="normal" fill="#333" transform="translate(370.9 156.16) scale(0.9 1)" >0.01</text>
<text x="0" y="0" font-size="7.33" text-anchor="middle" font-weight="normal" fill="#333" transform="translate(402.5 156.16) scale(0.9 1)" >0.10</text>
<text x="0" y="0" font-size="7.33" text-anchor="middle" font-weight="normal" fill="#333" transform="translate(434.1 156.16) scale(0.9 1)" >1</text>
<text x="0" y="0" font-size="7.33" text-anchor="middle" font-weight="normal" fill="#333" transform="translate(465.7 156.16) scale(0.9 1)" >10</text>
<text x="0" y="0" font-size="7.33" text-anchor="middle" font-weight="normal" fill="#333" transform="translate(497.3 156.16) scale(0.9 1)" >100</text>
<text x="0" y="0" font-size="7.22" text-anchor="middle" font-weight="normal" fill="#222" transform="translate(400.8 166.16) scale(0.9 1)" >Antibody concentration, μg/mL</text>
<text x="286.8" y="83.5" font-size="6.5" text-anchor="middle" fill="#222" transform="rotate(-90 286.8 83.5)"><tspan dy="2.3">Viable cells, %</tspan></text>
<polyline points="323.01,43.65 324.91,43.65 326.82,43.65 328.72,43.65 330.62,43.65 332.52,43.65 334.43,43.65 336.33,43.65 338.23,43.65 340.13,43.65 342.04,43.65 343.94,43.65 345.84,43.65 347.74,43.65 349.65,43.65 351.55,43.66 353.45,43.66 355.35,43.66 357.26,43.66 359.16,43.66 361.06,43.66 362.96,43.66 364.87,43.67 366.77,43.67 368.67,43.67 370.57,43.68 372.48,43.68 374.38,43.68 376.28,43.69 378.18,43.7 380.09,43.7 381.99,43.71 383.89,43.72 385.79,43.73 387.7,43.74 389.6,43.75 391.5,43.77 393.4,43.79 395.31,43.8 397.21,43.83 399.11,43.85 401.01,43.88 402.92,43.91 404.82,43.95 406.72,43.99 408.62,44.04 410.53,44.09 412.43,44.15 414.33,44.22 416.23,44.3 418.14,44.39 420.04,44.49 421.94,44.6 423.84,44.72 425.75,44.86 427.65,45.02 429.55,45.2 431.45,45.4 433.36,45.62 435.26,45.86 437.16,46.13 439.06,46.43 440.97,46.75 442.87,47.11 444.77,47.49 446.67,47.91 448.58,48.35 450.48,48.82 452.38,49.32 454.28,49.85 456.19,50.4 458.09,50.96 459.99,51.54 461.89,52.13 463.8,52.72 465.7,53.32 467.6,53.9 469.51,54.48 471.41,55.04 473.31,55.58 475.21,56.1" fill="none" stroke="#b9bdbf" stroke-width="1.1" stroke-linejoin="round" />
<polyline points="323.01,50.22 324.91,50.22 326.82,50.22 328.72,50.22 330.62,50.22 332.52,50.23 334.43,50.23 336.33,50.23 338.23,50.23 340.13,50.23 342.04,50.23 343.94,50.24 345.84,50.24 347.74,50.24 349.65,50.25 351.55,50.25 353.45,50.25 355.35,50.26 357.26,50.26 359.16,50.27 361.06,50.27 362.96,50.28 364.87,50.29 366.77,50.29 368.67,50.3 370.57,50.31 372.48,50.32 374.38,50.33 376.28,50.34 378.18,50.35 380.09,50.37 381.99,50.38 383.89,50.4 385.79,50.42 387.7,50.43 389.6,50.46 391.5,50.48 393.4,50.5 395.31,50.53 397.21,50.56 399.11,50.6 401.01,50.63 402.92,50.67 404.82,50.72 406.72,50.77 408.62,50.82 410.53,50.88 412.43,50.94 414.33,51.01 416.23,51.08 418.14,51.16 420.04,51.25 421.94,51.35 423.84,51.46 425.75,51.58 427.65,51.71 429.55,51.85 431.45,52.01 433.36,52.18 435.26,52.36 437.16,52.56 439.06,52.79 440.97,53.03 442.87,53.3 444.77,53.59 446.67,53.91 448.58,54.26 450.48,54.64 452.38,55.06 454.28,55.51 456.19,56.01 458.09,56.56 459.99,57.16 461.89,57.82 463.8,58.54 465.7,59.32 467.6,60.18 469.51,61.12 471.41,62.15 473.31,63.28 475.21,64.51" fill="none" stroke="#2b2b2b" stroke-width="1.1" stroke-linejoin="round" />
<polyline points="323.01,39.99 324.91,39.99 326.82,40 328.72,40 330.62,40 332.52,40 334.43,40 336.33,40 338.23,40 340.13,40 342.04,40 343.94,40 345.84,40 347.74,40.01 349.65,40.01 351.55,40.01 353.45,40.02 355.35,40.02 357.26,40.03 359.16,40.04 361.06,40.05 362.96,40.06 364.87,40.08 366.77,40.1 368.67,40.13 370.57,40.16 372.48,40.2 374.38,40.25 376.28,40.31 378.18,40.39 380.09,40.48 381.99,40.6 383.89,40.75 385.79,40.93 387.7,41.16 389.6,41.44 391.5,41.78 393.4,42.2 395.31,42.72 397.21,43.35 399.11,44.12 401.01,45.04 402.92,46.15 404.82,47.46 406.72,49.01 408.62,50.81 410.53,52.87 412.43,55.2 414.33,57.79 416.23,60.6 418.14,63.59 420.04,66.7 421.94,69.87 423.84,73.02 425.75,76.06 427.65,78.95 429.55,81.62 431.45,84.05 433.36,86.22 435.26,88.11 437.16,89.76 439.06,91.16 440.97,92.34 442.87,93.33 444.77,94.15 446.67,94.83 448.58,95.39 450.48,95.85 452.38,96.22 454.28,96.52 456.19,96.76 458.09,96.96 459.99,97.12 461.89,97.25 463.8,97.36 465.7,97.44 467.6,97.51 469.51,97.56 471.41,97.6 473.31,97.64 475.21,97.67" fill="none" stroke="#e39a3b" stroke-width="1.1" stroke-linejoin="round" />
<polyline points="323.01,45.61 324.91,45.61 326.82,45.61 328.72,45.61 330.62,45.61 332.52,45.61 334.43,45.62 336.33,45.62 338.23,45.62 340.13,45.63 342.04,45.63 343.94,45.64 345.84,45.65 347.74,45.65 349.65,45.66 351.55,45.68 353.45,45.69 355.35,45.71 357.26,45.74 359.16,45.76 361.06,45.8 362.96,45.84 364.87,45.88 366.77,45.94 368.67,46.01 370.57,46.1 372.48,46.2 374.38,46.32 376.28,46.46 378.18,46.64 380.09,46.84 381.99,47.09 383.89,47.39 385.79,47.75 387.7,48.17 389.6,48.67 391.5,49.26 393.4,49.96 395.31,50.79 397.21,51.75 399.11,52.87 401.01,54.16 402.92,55.65 404.82,57.33 406.72,59.23 408.62,61.35 410.53,63.68 412.43,66.2 414.33,68.91 416.23,71.75 418.14,74.7 420.04,77.71 421.94,80.72 423.84,83.68 425.75,86.55 427.65,89.27 429.55,91.83 431.45,94.18 433.36,96.33 435.26,98.26 437.16,99.98 439.06,101.5 440.97,102.82 442.87,103.96 444.77,104.95 446.67,105.79 448.58,106.51 450.48,107.12 452.38,107.63 454.28,108.06 456.19,108.43 458.09,108.73 459.99,108.99 461.89,109.2 463.8,109.38 465.7,109.53 467.6,109.65 469.51,109.76 471.41,109.84 473.31,109.91 475.21,109.97" fill="none" stroke="#46586a" stroke-width="1.1" stroke-linejoin="round" />
<polyline points="323.01,49.7 324.91,49.7 326.82,49.7 328.72,49.7 330.62,49.7 332.52,49.7 334.43,49.71 336.33,49.71 338.23,49.71 340.13,49.71 342.04,49.72 343.94,49.72 345.84,49.73 347.74,49.73 349.65,49.74 351.55,49.75 353.45,49.76 355.35,49.78 357.26,49.79 359.16,49.81 361.06,49.84 362.96,49.87 364.87,49.91 366.77,49.95 368.67,50.01 370.57,50.07 372.48,50.15 374.38,50.25 376.28,50.37 378.18,50.52 380.09,50.69 381.99,50.9 383.89,51.16 385.79,51.46 387.7,51.83 389.6,52.28 391.5,52.81 393.4,53.45 395.31,54.21 397.21,55.11 399.11,56.17 401.01,57.42 402.92,58.88 404.82,60.56 406.72,62.49 408.62,64.67 410.53,67.12 412.43,69.83 414.33,72.79 416.23,75.95 418.14,79.29 420.04,82.75 421.94,86.26 423.84,89.76 425.75,93.18 427.65,96.47 429.55,99.57 431.45,102.45 433.36,105.07 435.26,107.44 437.16,109.54 439.06,111.39 440.97,112.99 442.87,114.38 444.77,115.56 446.67,116.57 448.58,117.43 450.48,118.14 452.38,118.75 454.28,119.25 456.19,119.67 458.09,120.02 459.99,120.31 461.89,120.55 463.8,120.74 465.7,120.91 467.6,121.04 469.51,121.16 471.41,121.25 473.31,121.32 475.21,121.39" fill="none" stroke="#2b2b2b" stroke-width="1.1" stroke-linejoin="round" />
<polyline points="323.01,43.02 324.91,43.02 326.82,43.02 328.72,43.02 330.62,43.03 332.52,43.03 334.43,43.03 336.33,43.04 338.23,43.05 340.13,43.05 342.04,43.07 343.94,43.09 345.84,43.11 347.74,43.14 349.65,43.19 351.55,43.25 353.45,43.34 355.35,43.45 357.26,43.61 359.16,43.82 361.06,44.1 362.96,44.49 364.87,45.01 366.77,45.71 368.67,46.64 370.57,47.89 372.48,49.54 374.38,51.69 376.28,54.48 378.18,58.01 380.09,62.4 381.99,67.71 383.89,73.93 385.79,80.95 387.7,88.55 389.6,96.41 391.5,104.17 393.4,111.47 395.31,118.05 397.21,123.75 399.11,128.52 401.01,132.41 402.92,135.49 404.82,137.9 406.72,139.74 408.62,141.15 410.53,142.21 412.43,143 414.33,143.59 416.23,144.03 418.14,144.35 420.04,144.59 421.94,144.77 423.84,144.9 425.75,144.99 427.65,145.06 429.55,145.11 431.45,145.15 433.36,145.18 435.26,145.2 437.16,145.22 439.06,145.23 440.97,145.24 442.87,145.24 444.77,145.25 446.67,145.25 448.58,145.25 450.48,145.25 452.38,145.25 454.28,145.26 456.19,145.26 458.09,145.26 459.99,145.26 461.89,145.26 463.8,145.26 465.7,145.26 467.6,145.26 469.51,145.26 471.41,145.26 473.31,145.26 475.21,145.26" fill="none" stroke="#2aa9dd" stroke-width="1.1" stroke-linejoin="round" />
<polygon points="323.01,42.53 325.11,46.31 320.91,46.31" fill="#e6f5f9" stroke="#b8dde9" stroke-width="0.8" stroke-linejoin="miter"/>
<polygon points="342.04,38.93 344.14,42.71 339.94,42.71" fill="#e6f5f9" stroke="#b8dde9" stroke-width="0.8" stroke-linejoin="miter"/>
<polygon points="361.06,42.53 363.16,46.31 358.96,46.31" fill="#e6f5f9" stroke="#b8dde9" stroke-width="0.8" stroke-linejoin="miter"/>
<polygon points="380.09,43.43 382.19,47.21 377.99,47.21" fill="#e6f5f9" stroke="#b8dde9" stroke-width="0.8" stroke-linejoin="miter"/>
<polygon points="399.11,39.47 401.21,43.25 397.01,43.25" fill="#e6f5f9" stroke="#b8dde9" stroke-width="0.8" stroke-linejoin="miter"/>
<polygon points="418.14,42.08 420.24,45.86 416.04,45.86" fill="#e6f5f9" stroke="#b8dde9" stroke-width="0.8" stroke-linejoin="miter"/>
<polygon points="437.16,44.33 439.26,48.11 435.06,48.11" fill="#e6f5f9" stroke="#b8dde9" stroke-width="0.8" stroke-linejoin="miter"/>
<polygon points="456.19,47.93 458.29,51.71 454.09,51.71" fill="#e6f5f9" stroke="#b8dde9" stroke-width="0.8" stroke-linejoin="miter"/>
<polygon points="475.21,53.87 477.31,57.65 473.11,57.65" fill="#e6f5f9" stroke="#b8dde9" stroke-width="0.8" stroke-linejoin="miter"/>
<polygon points="323.01,47.93 325.11,51.71 320.91,51.71" fill="#fff" stroke="#2b2b2b" stroke-width="1.05" stroke-linejoin="miter"/>
<polygon points="342.04,47.93 344.14,51.71 339.94,51.71" fill="#fff" stroke="#2b2b2b" stroke-width="1.05" stroke-linejoin="miter"/>
<polygon points="361.06,47.93 363.16,51.71 358.96,51.71" fill="#fff" stroke="#2b2b2b" stroke-width="1.05" stroke-linejoin="miter"/>
<polygon points="380.09,47.93 382.19,51.71 377.99,51.71" fill="#fff" stroke="#2b2b2b" stroke-width="1.05" stroke-linejoin="miter"/>
<polygon points="399.11,47.93 401.21,51.71 397.01,51.71" fill="#fff" stroke="#2b2b2b" stroke-width="1.05" stroke-linejoin="miter"/>
<polygon points="418.14,50.27 420.24,54.05 416.04,54.05" fill="#fff" stroke="#2b2b2b" stroke-width="1.05" stroke-linejoin="miter"/>
<polygon points="437.16,49.46 439.26,53.24 435.06,53.24" fill="#fff" stroke="#2b2b2b" stroke-width="1.05" stroke-linejoin="miter"/>
<polygon points="456.19,53.87 458.29,57.65 454.09,57.65" fill="#fff" stroke="#2b2b2b" stroke-width="1.05" stroke-linejoin="miter"/>
<polygon points="475.21,62.24 477.31,66.02 473.11,66.02" fill="#fff" stroke="#2b2b2b" stroke-width="1.05" stroke-linejoin="miter"/>
<circle cx="323.01" cy="52.9" r="1.8" fill="#fff" stroke="#46586a" stroke-width="1.05"/>
<circle cx="342.04" cy="44.8" r="1.8" fill="#fff" stroke="#46586a" stroke-width="1.05"/>
<circle cx="361.06" cy="46.6" r="1.8" fill="#fff" stroke="#46586a" stroke-width="1.05"/>
<circle cx="380.09" cy="40.48" r="1.8" fill="#fff" stroke="#46586a" stroke-width="1.05"/>
<circle cx="399.11" cy="50.2" r="1.8" fill="#fff" stroke="#46586a" stroke-width="1.05"/>
<circle cx="418.14" cy="78.1" r="1.8" fill="#fff" stroke="#46586a" stroke-width="1.05"/>
<circle cx="437.16" cy="97" r="1.8" fill="#fff" stroke="#46586a" stroke-width="1.05"/>
<circle cx="456.19" cy="105.64" r="1.8" fill="#fff" stroke="#46586a" stroke-width="1.05"/>
<circle cx="475.21" cy="114.1" r="1.8" fill="#fff" stroke="#46586a" stroke-width="1.05"/>
<circle cx="323.01" cy="55.96" r="1.8" fill="#fff" stroke="#2b2b2b" stroke-width="1.05"/>
<circle cx="342.04" cy="49.75" r="1.8" fill="#fff" stroke="#2b2b2b" stroke-width="1.05"/>
<circle cx="361.06" cy="47.5" r="1.8" fill="#fff" stroke="#2b2b2b" stroke-width="1.05"/>
<circle cx="380.09" cy="49.75" r="1.8" fill="#fff" stroke="#2b2b2b" stroke-width="1.05"/>
<circle cx="399.11" cy="51.1" r="1.8" fill="#fff" stroke="#2b2b2b" stroke-width="1.05"/>
<circle cx="418.14" cy="82.78" r="1.8" fill="#fff" stroke="#2b2b2b" stroke-width="1.05"/>
<circle cx="437.16" cy="106.99" r="1.8" fill="#fff" stroke="#2b2b2b" stroke-width="1.05"/>
<circle cx="456.19" cy="117.07" r="1.8" fill="#fff" stroke="#2b2b2b" stroke-width="1.05"/>
<circle cx="475.21" cy="125.08" r="1.8" fill="#fff" stroke="#2b2b2b" stroke-width="1.05"/>
<circle cx="323.01" cy="45.7" r="2" fill="#e39a3b"/>
<circle cx="342.04" cy="42.1" r="2" fill="#e39a3b"/>
<circle cx="361.06" cy="38.95" r="2" fill="#e39a3b"/>
<circle cx="380.09" cy="36.16" r="2" fill="#e39a3b"/>
<circle cx="399.11" cy="40.3" r="2" fill="#e39a3b"/>
<circle cx="418.14" cy="66.13" r="2" fill="#e39a3b"/>
<circle cx="437.16" cy="87.1" r="2" fill="#e39a3b"/>
<circle cx="456.19" cy="96.1" r="2" fill="#e39a3b"/>
<circle cx="475.21" cy="99.88" r="2" fill="#e39a3b"/>
<circle cx="323.01" cy="43" r="2" fill="#2aa9dd"/>
<circle cx="342.04" cy="43.9" r="2" fill="#2aa9dd"/>
<circle cx="361.06" cy="43.18" r="2" fill="#2aa9dd"/>
<circle cx="380.09" cy="62.53" r="2" fill="#2aa9dd"/>
<circle cx="399.11" cy="128.41" r="2" fill="#2aa9dd"/>
<circle cx="418.14" cy="144.7" r="2" fill="#2aa9dd"/>
<circle cx="437.16" cy="145.15" r="2" fill="#2aa9dd"/>
<circle cx="456.19" cy="145.15" r="2" fill="#2aa9dd"/>
<circle cx="475.21" cy="145.15" r="2" fill="#2aa9dd"/>
<rect x="326.9" y="171.4" width="172.1" height="63.4" fill="none" stroke="#777" stroke-width="0.9"/>
<line x1="340.8" y1="179.6" x2="348.5" y2="179.6" stroke="#2b2b2b" stroke-width="0.8" />
<polygon points="344.6,177.44 346.6,181.04 342.6,181.04" fill="#fff" stroke="#2b2b2b" stroke-width="1.05" stroke-linejoin="miter"/>
<text x="0" y="0" font-size="7.33" text-anchor="start" font-weight="normal" fill="#222" transform="translate(352 182.16) scale(0.9 1)" >Isotype control</text>
<line x1="340.8" y1="188.8" x2="348.5" y2="188.8" stroke="#2b2b2b" stroke-width="0.8" />
<circle cx="344.6" cy="188.8" r="2.2" fill="#fff" stroke="#2b2b2b" stroke-width="1.05"/>
<text x="0" y="0" font-size="7.33" text-anchor="start" font-weight="normal" fill="#222" transform="translate(352 191.36) scale(0.9 1)" >HexaBody-DR5/DR5</text>
<line x1="340.8" y1="197.6" x2="348.5" y2="197.6" stroke="#666" stroke-width="0.8" />
<circle cx="344.6" cy="197.6" r="2.2" fill="#fff" stroke="#666" stroke-width="1.05"/>
<text x="0" y="0" font-size="7.33" text-anchor="start" font-weight="normal" fill="#222" transform="translate(352 200.16) scale(0.9 1)" >HexaBody-DR5/DR5-P329R</text>
<line x1="340.8" y1="209.6" x2="348.5" y2="209.6" stroke="#a9d9e8" stroke-width="0.8" />
<polygon points="344.6,207.44 346.6,211.04 342.6,211.04" fill="#bfe3ee" stroke="#bfe3ee" stroke-width="1.05" stroke-linejoin="miter"/>
<text x="0" y="0" font-size="7.33" text-anchor="start" font-weight="normal" fill="#222" transform="translate(352 212.16) scale(0.9 1)" >Isotype control</text>
<line x1="340.8" y1="218.5" x2="348.5" y2="218.5" stroke="#2aa9dd" stroke-width="0.8" />
<circle cx="344.6" cy="218.5" r="2.55" fill="#2aa9dd"/>
<text x="0" y="0" font-size="7.33" text-anchor="start" font-weight="normal" fill="#222" transform="translate(352 221.06) scale(0.9 1)" >HexaBody-DR5/DR5</text>
<line x1="340.8" y1="227.3" x2="348.5" y2="227.3" stroke="#e39a3b" stroke-width="0.8" />
<circle cx="344.6" cy="227.3" r="2.55" fill="#e39a3b"/>
<text x="0" y="0" font-size="7.33" text-anchor="start" font-weight="normal" fill="#222" transform="translate(352 229.86) scale(0.9 1)" >HexaBody-DR5/DR5-P329R</text>
<polyline points="443.5,206.4 445.5,206.4 445.5,228.4 443.5,228.4" fill="none" stroke="#333" stroke-width="0.8" stroke-linejoin="round" />
<text x="0" y="0" font-size="7.33" text-anchor="start" font-weight="normal" fill="#222" transform="translate(448.7 216.06) scale(0.9 1)" >2.5 μg/mL</text>
<text x="0" y="0" font-size="7.33" text-anchor="start" font-weight="normal" fill="#222" transform="translate(448.7 224.66) scale(0.9 1)" >purified C1q</text>
<text x="0" y="0" font-size="13" font-weight="bold" fill="#111" transform="translate(1.7 261.5) scale(0.9 1)">C</text>
<text x="0" y="0" font-size="8.89" text-anchor="middle" font-weight="bold" fill="#1a1a1a" transform="translate(147.3 272.22) scale(0.9 1)" >WIL2-S SF (B-cell lymphoblast)</text>
<line x1="33.6" y1="402.25" x2="246.2" y2="402.25" stroke="#c9c9c9" stroke-width="0.9" />
<line x1="33.6" y1="379.3" x2="246.2" y2="379.3" stroke="#c9c9c9" stroke-width="0.9" />
<line x1="33.6" y1="356.35" x2="246.2" y2="356.35" stroke="#c9c9c9" stroke-width="0.9" />
<line x1="33.6" y1="333.4" x2="246.2" y2="333.4" stroke="#c9c9c9" stroke-width="0.9" />
<line x1="33.6" y1="310.45" x2="246.2" y2="310.45" stroke="#c9c9c9" stroke-width="0.9" />
<line x1="33.6" y1="287.5" x2="246.2" y2="287.5" stroke="#c9c9c9" stroke-width="0.9" />
<line x1="33.4" y1="287" x2="33.4" y2="425.6" stroke="#4a4a4a" stroke-width="1.0" />
<line x1="30" y1="425.2" x2="33.4" y2="425.2" stroke="#4a4a4a" stroke-width="0.9" />
<text x="0" y="0" font-size="7.56" text-anchor="end" font-weight="normal" fill="#333" transform="translate(27.3 427.87) scale(0.9 1)" >0</text>
<line x1="30" y1="402.25" x2="33.4" y2="402.25" stroke="#4a4a4a" stroke-width="0.9" />
<text x="0" y="0" font-size="7.56" text-anchor="end" font-weight="normal" fill="#333" transform="translate(27.3 404.92) scale(0.9 1)" >20</text>
<line x1="30" y1="379.3" x2="33.4" y2="379.3" stroke="#4a4a4a" stroke-width="0.9" />
<text x="0" y="0" font-size="7.56" text-anchor="end" font-weight="normal" fill="#333" transform="translate(27.3 381.97) scale(0.9 1)" >40</text>
<line x1="30" y1="356.35" x2="33.4" y2="356.35" stroke="#4a4a4a" stroke-width="0.9" />
<text x="0" y="0" font-size="7.56" text-anchor="end" font-weight="normal" fill="#333" transform="translate(27.3 359.02) scale(0.9 1)" >60</text>
<line x1="30" y1="333.4" x2="33.4" y2="333.4" stroke="#4a4a4a" stroke-width="0.9" />
<text x="0" y="0" font-size="7.56" text-anchor="end" font-weight="normal" fill="#333" transform="translate(27.3 336.07) scale(0.9 1)" >80</text>
<line x1="30" y1="310.45" x2="33.4" y2="310.45" stroke="#4a4a4a" stroke-width="0.9" />
<text x="0" y="0" font-size="7.56" text-anchor="end" font-weight="normal" fill="#333" transform="translate(27.3 313.12) scale(0.9 1)" >100</text>
<line x1="30" y1="287.5" x2="33.4" y2="287.5" stroke="#4a4a4a" stroke-width="0.9" />
<text x="0" y="0" font-size="7.56" text-anchor="end" font-weight="normal" fill="#333" transform="translate(27.3 290.17) scale(0.9 1)" >120</text>
<line x1="33.4" y1="425.3" x2="246.4" y2="425.3" stroke="#4a4a4a" stroke-width="1.1" />
<line x1="33.4" y1="425.3" x2="33.4" y2="429.4" stroke="#4a4a4a" stroke-width="0.7" />
<line x1="49.41" y1="425.3" x2="49.41" y2="427.2" stroke="#4a4a4a" stroke-width="0.6" />
<line x1="58.78" y1="425.3" x2="58.78" y2="427.2" stroke="#4a4a4a" stroke-width="0.6" />
<line x1="65.43" y1="425.3" x2="65.43" y2="427.2" stroke="#4a4a4a" stroke-width="0.6" />
<line x1="70.59" y1="425.3" x2="70.59" y2="427.2" stroke="#4a4a4a" stroke-width="0.6" />
<line x1="74.8" y1="425.3" x2="74.8" y2="427.2" stroke="#4a4a4a" stroke-width="0.6" />
<line x1="78.36" y1="425.3" x2="78.36" y2="427.2" stroke="#4a4a4a" stroke-width="0.6" />
<line x1="81.44" y1="425.3" x2="81.44" y2="427.2" stroke="#4a4a4a" stroke-width="0.6" />
<line x1="84.17" y1="425.3" x2="84.17" y2="427.2" stroke="#4a4a4a" stroke-width="0.6" />
<line x1="86.6" y1="425.3" x2="86.6" y2="429.4" stroke="#4a4a4a" stroke-width="0.7" />
<line x1="102.61" y1="425.3" x2="102.61" y2="427.2" stroke="#4a4a4a" stroke-width="0.6" />
<line x1="111.98" y1="425.3" x2="111.98" y2="427.2" stroke="#4a4a4a" stroke-width="0.6" />
<line x1="118.63" y1="425.3" x2="118.63" y2="427.2" stroke="#4a4a4a" stroke-width="0.6" />
<line x1="123.79" y1="425.3" x2="123.79" y2="427.2" stroke="#4a4a4a" stroke-width="0.6" />
<line x1="128" y1="425.3" x2="128" y2="427.2" stroke="#4a4a4a" stroke-width="0.6" />
<line x1="131.56" y1="425.3" x2="131.56" y2="427.2" stroke="#4a4a4a" stroke-width="0.6" />
<line x1="134.64" y1="425.3" x2="134.64" y2="427.2" stroke="#4a4a4a" stroke-width="0.6" />
<line x1="137.37" y1="425.3" x2="137.37" y2="427.2" stroke="#4a4a4a" stroke-width="0.6" />
<line x1="139.8" y1="425.3" x2="139.8" y2="429.4" stroke="#4a4a4a" stroke-width="0.7" />
<line x1="155.81" y1="425.3" x2="155.81" y2="427.2" stroke="#4a4a4a" stroke-width="0.6" />
<line x1="165.18" y1="425.3" x2="165.18" y2="427.2" stroke="#4a4a4a" stroke-width="0.6" />
<line x1="171.83" y1="425.3" x2="171.83" y2="427.2" stroke="#4a4a4a" stroke-width="0.6" />
<line x1="176.99" y1="425.3" x2="176.99" y2="427.2" stroke="#4a4a4a" stroke-width="0.6" />
<line x1="181.2" y1="425.3" x2="181.2" y2="427.2" stroke="#4a4a4a" stroke-width="0.6" />
<line x1="184.76" y1="425.3" x2="184.76" y2="427.2" stroke="#4a4a4a" stroke-width="0.6" />
<line x1="187.84" y1="425.3" x2="187.84" y2="427.2" stroke="#4a4a4a" stroke-width="0.6" />
<line x1="190.57" y1="425.3" x2="190.57" y2="427.2" stroke="#4a4a4a" stroke-width="0.6" />
<line x1="193" y1="425.3" x2="193" y2="429.4" stroke="#4a4a4a" stroke-width="0.7" />
<line x1="209.01" y1="425.3" x2="209.01" y2="427.2" stroke="#4a4a4a" stroke-width="0.6" />
<line x1="218.38" y1="425.3" x2="218.38" y2="427.2" stroke="#4a4a4a" stroke-width="0.6" />
<line x1="225.03" y1="425.3" x2="225.03" y2="427.2" stroke="#4a4a4a" stroke-width="0.6" />
<line x1="230.19" y1="425.3" x2="230.19" y2="427.2" stroke="#4a4a4a" stroke-width="0.6" />
<line x1="234.4" y1="425.3" x2="234.4" y2="427.2" stroke="#4a4a4a" stroke-width="0.6" />
<line x1="237.96" y1="425.3" x2="237.96" y2="427.2" stroke="#4a4a4a" stroke-width="0.6" />
<line x1="241.04" y1="425.3" x2="241.04" y2="427.2" stroke="#4a4a4a" stroke-width="0.6" />
<line x1="243.77" y1="425.3" x2="243.77" y2="427.2" stroke="#4a4a4a" stroke-width="0.6" />
<line x1="246.2" y1="425.3" x2="246.2" y2="429.4" stroke="#4a4a4a" stroke-width="0.7" />
<text x="0" y="0" font-size="7.56" text-anchor="middle" font-weight="normal" fill="#333" transform="translate(28.1 437.27) scale(0.9 1)" >0.001</text>
<text x="0" y="0" font-size="7.56" text-anchor="middle" font-weight="normal" fill="#333" transform="translate(82.1 437.27) scale(0.9 1)" >0.01</text>
<text x="0" y="0" font-size="7.56" text-anchor="middle" font-weight="normal" fill="#333" transform="translate(137 437.27) scale(0.9 1)" >0.1</text>
<text x="0" y="0" font-size="7.56" text-anchor="middle" font-weight="normal" fill="#333" transform="translate(192 437.27) scale(0.9 1)" >1</text>
<text x="0" y="0" font-size="7.56" text-anchor="middle" font-weight="normal" fill="#333" transform="translate(244.5 437.27) scale(0.9 1)" >10</text>
<text x="0" y="0" font-size="8.83" text-anchor="middle" font-weight="normal" fill="#222" transform="translate(142.2 446.52) scale(0.9 1)" >Purified C1q concentration, μg/mL</text>
<text x="7.3" y="356.1" font-size="7.75" text-anchor="middle" fill="#222" transform="rotate(-90 7.3 356.1)"><tspan dy="2.7">Viable cells (%)</tspan></text>
<line x1="87.26" y1="300.5" x2="87.26" y2="308.5" stroke="#555" stroke-width="0.8" />
<line x1="85.06" y1="300.5" x2="89.46" y2="300.5" stroke="#555" stroke-width="0.8" />
<line x1="85.06" y1="308.5" x2="89.46" y2="308.5" stroke="#555" stroke-width="0.8" />
<line x1="112.64" y1="299.4" x2="112.64" y2="310" stroke="#555" stroke-width="0.8" />
<line x1="110.44" y1="299.4" x2="114.84" y2="299.4" stroke="#555" stroke-width="0.8" />
<line x1="110.44" y1="310" x2="114.84" y2="310" stroke="#555" stroke-width="0.8" />
<line x1="138.02" y1="299.4" x2="138.02" y2="309.6" stroke="#555" stroke-width="0.8" />
<line x1="135.82" y1="299.4" x2="140.22" y2="299.4" stroke="#555" stroke-width="0.8" />
<line x1="135.82" y1="309.6" x2="140.22" y2="309.6" stroke="#555" stroke-width="0.8" />
<line x1="163.4" y1="300.2" x2="163.4" y2="315" stroke="#555" stroke-width="0.8" />
<line x1="161.2" y1="300.2" x2="165.6" y2="300.2" stroke="#555" stroke-width="0.8" />
<line x1="161.2" y1="315" x2="165.6" y2="315" stroke="#555" stroke-width="0.8" />
<line x1="188.79" y1="302.9" x2="188.79" y2="312.3" stroke="#555" stroke-width="0.8" />
<line x1="186.59" y1="302.9" x2="190.99" y2="302.9" stroke="#555" stroke-width="0.8" />
<line x1="186.59" y1="312.3" x2="190.99" y2="312.3" stroke="#555" stroke-width="0.8" />
<line x1="214.17" y1="307" x2="214.17" y2="316.4" stroke="#555" stroke-width="0.8" />
<line x1="211.97" y1="307" x2="216.37" y2="307" stroke="#555" stroke-width="0.8" />
<line x1="211.97" y1="316.4" x2="216.37" y2="316.4" stroke="#555" stroke-width="0.8" />
<line x1="239.55" y1="311" x2="239.55" y2="323.1" stroke="#555" stroke-width="0.8" />
<line x1="237.35" y1="311" x2="241.75" y2="311" stroke="#555" stroke-width="0.8" />
<line x1="237.35" y1="323.1" x2="241.75" y2="323.1" stroke="#555" stroke-width="0.8" />
<line x1="61.87" y1="334.8" x2="61.87" y2="359.1" stroke="#555" stroke-width="0.8" />
<line x1="59.67" y1="334.8" x2="64.07" y2="334.8" stroke="#555" stroke-width="0.8" />
<line x1="59.67" y1="359.1" x2="64.07" y2="359.1" stroke="#555" stroke-width="0.8" />
<line x1="87.26" y1="346.4" x2="87.26" y2="377.6" stroke="#555" stroke-width="0.8" />
<line x1="85.06" y1="346.4" x2="89.46" y2="346.4" stroke="#555" stroke-width="0.8" />
<line x1="85.06" y1="377.6" x2="89.46" y2="377.6" stroke="#555" stroke-width="0.8" />
<line x1="112.64" y1="360.3" x2="112.64" y2="390.2" stroke="#555" stroke-width="0.8" />
<line x1="110.44" y1="360.3" x2="114.84" y2="360.3" stroke="#555" stroke-width="0.8" />
<line x1="110.44" y1="390.2" x2="114.84" y2="390.2" stroke="#555" stroke-width="0.8" />
<line x1="138.02" y1="387.3" x2="138.02" y2="402.9" stroke="#555" stroke-width="0.8" />
<line x1="135.82" y1="387.3" x2="140.22" y2="387.3" stroke="#555" stroke-width="0.8" />
<line x1="135.82" y1="402.9" x2="140.22" y2="402.9" stroke="#555" stroke-width="0.8" />
<line x1="163.4" y1="403.2" x2="163.4" y2="409.4" stroke="#555" stroke-width="0.8" />
<line x1="161.2" y1="403.2" x2="165.6" y2="403.2" stroke="#555" stroke-width="0.8" />
<line x1="161.2" y1="409.4" x2="165.6" y2="409.4" stroke="#555" stroke-width="0.8" />
<polyline points="61.87,305.29 64.09,305.3 66.32,305.31 68.54,305.32 70.76,305.33 72.98,305.34 75.2,305.35 77.42,305.36 79.64,305.37 81.86,305.38 84.08,305.4 86.3,305.41 88.53,305.42 90.75,305.44 92.97,305.46 95.19,305.47 97.41,305.49 99.63,305.51 101.85,305.53 104.07,305.56 106.29,305.58 108.51,305.6 110.74,305.63 112.96,305.66 115.18,305.69 117.4,305.72 119.62,305.75 121.84,305.79 124.06,305.82 126.28,305.86 128.5,305.9 130.72,305.95 132.95,305.99 135.17,306.04 137.39,306.09 139.61,306.15 141.83,306.21 144.05,306.27 146.27,306.33 148.49,306.4 150.71,306.47 152.93,306.55 155.16,306.63 157.38,306.72 159.6,306.81 161.82,306.9 164.04,307 166.26,307.11 168.48,307.23 170.7,307.35 172.92,307.47 175.14,307.61 177.37,307.75 179.59,307.9 181.81,308.06 184.03,308.23 186.25,308.41 188.47,308.6 190.69,308.8 192.91,309.01 195.13,309.24 197.35,309.47 199.58,309.73 201.8,309.99 204.02,310.27 206.24,310.57 208.46,310.89 210.68,311.22 212.9,311.57 215.12,311.95 217.34,312.34 219.56,312.76 221.79,313.2 224.01,313.67 226.23,314.16 228.45,314.69 230.67,315.24 232.89,315.83 235.11,316.45 237.33,317.1 239.55,317.8" fill="none" stroke="#2b2b2b" stroke-width="0.9" stroke-linejoin="round" />
<polyline points="61.87,347.16 64.09,348.17 66.32,349.21 68.54,350.28 70.76,351.4 72.98,352.54 75.2,353.73 77.42,354.95 79.64,356.2 81.86,357.48 84.08,358.8 86.3,360.14 88.53,361.52 90.75,362.92 92.97,364.34 95.19,365.78 97.41,367.24 99.63,368.72 101.85,370.22 104.07,371.72 106.29,373.23 108.51,374.75 110.74,376.27 112.96,377.79 115.18,379.3 117.4,380.81 119.62,382.31 121.84,383.79 124.06,385.26 126.28,386.72 128.5,388.15 130.72,389.56 132.95,390.95 135.17,392.31 137.39,393.64 139.61,394.94 141.83,396.21 144.05,397.44 146.27,398.64 148.49,399.81 150.71,400.94 152.93,402.04 155.16,403.09 157.38,404.12 159.6,405.1 161.82,406.05 164.04,406.96 166.26,407.84 168.48,408.68 170.7,409.49 172.92,410.26 175.14,411 177.37,411.7 179.59,412.37 181.81,413.02 184.03,413.63 186.25,414.21 188.47,414.77 190.69,415.29 192.91,415.79 195.13,416.27 197.35,416.72 199.58,417.15 201.8,417.56 204.02,417.94 206.24,418.31 208.46,418.65 210.68,418.98 212.9,419.29 215.12,419.58 217.34,419.85 219.56,420.11 221.79,420.36 224.01,420.59 226.23,420.81 228.45,421.02 230.67,421.21 232.89,421.4 235.11,421.57 237.33,421.73 239.55,421.89" fill="none" stroke="#2aa9dd" stroke-width="0.9" stroke-linejoin="round" />
<polygon points="61.87,302.59 64.37,307.09 59.37,307.09" fill="#fff" stroke="#2b2b2b" stroke-width="1.05" stroke-linejoin="miter"/>
<polygon points="87.26,302.59 89.76,307.09 84.76,307.09" fill="#fff" stroke="#2b2b2b" stroke-width="1.05" stroke-linejoin="miter"/>
<polygon points="112.64,303.05 115.14,307.55 110.14,307.55" fill="#fff" stroke="#2b2b2b" stroke-width="1.05" stroke-linejoin="miter"/>
<polygon points="138.02,303.05 140.52,307.55 135.52,307.55" fill="#fff" stroke="#2b2b2b" stroke-width="1.05" stroke-linejoin="miter"/>
<polygon points="163.4,305.23 165.9,309.73 160.9,309.73" fill="#fff" stroke="#2b2b2b" stroke-width="1.05" stroke-linejoin="miter"/>
<polygon points="188.79,305.23 191.29,309.73 186.29,309.73" fill="#fff" stroke="#2b2b2b" stroke-width="1.05" stroke-linejoin="miter"/>
<polygon points="214.17,309.24 216.67,313.74 211.67,313.74" fill="#fff" stroke="#2b2b2b" stroke-width="1.05" stroke-linejoin="miter"/>
<polygon points="239.55,315.09 242.05,319.59 237.05,319.59" fill="#fff" stroke="#2b2b2b" stroke-width="1.05" stroke-linejoin="miter"/>
<circle cx="61.87" cy="346.94" r="2.6" fill="#2aa9dd"/>
<circle cx="87.26" cy="361.74" r="2.6" fill="#2aa9dd"/>
<circle cx="112.64" cy="375.63" r="2.6" fill="#2aa9dd"/>
<circle cx="138.02" cy="395.71" r="2.6" fill="#2aa9dd"/>
<circle cx="163.4" cy="406.84" r="2.6" fill="#2aa9dd"/>
<circle cx="188.79" cy="413.72" r="2.6" fill="#2aa9dd"/>
<circle cx="214.17" cy="419.35" r="2.6" fill="#2aa9dd"/>
<circle cx="239.55" cy="422.45" r="2.6" fill="#2aa9dd"/>
<rect x="94.8" y="452.9" width="96.2" height="23.4" fill="none" stroke="#555" stroke-width="1.0"/>
<line x1="102.4" y1="460.2" x2="110" y2="460.2" stroke="#2b2b2b" stroke-width="0.8" />
<polygon points="106.2,457.93 108.3,461.71 104.1,461.71" fill="#fff" stroke="#2b2b2b" stroke-width="1.05" stroke-linejoin="miter"/>
<line x1="102.4" y1="468.9" x2="110" y2="468.9" stroke="#2aa9dd" stroke-width="0.8" />
<circle cx="106.2" cy="468.9" r="2.7" fill="#2aa9dd"/>
<text x="0" y="0" font-size="7.33" text-anchor="start" font-weight="normal" fill="#222" transform="translate(122.8 462.76) scale(0.9 1)" >Isotype control</text>
<text x="0" y="0" font-size="7.33" text-anchor="start" font-weight="normal" fill="#222" transform="translate(122.8 471.46) scale(0.9 1)" >HexaBody-DR5/DR5</text>
<text x="0" y="0" font-size="13" font-weight="bold" fill="#111" transform="translate(275.3 261.4) scale(0.9 1)">D</text>
<text x="0" y="0" font-size="8.56" text-anchor="middle" font-weight="bold" fill="#1a1a1a" transform="translate(412.4 272.81) scale(0.9 1)" >COLO 205 (CRC)</text>
<line x1="308.6" y1="389.64" x2="516" y2="389.64" stroke="#e4e4e4" stroke-width="0.8" />
<line x1="308.6" y1="354.98" x2="516" y2="354.98" stroke="#e4e4e4" stroke-width="0.8" />
<line x1="308.6" y1="320.32" x2="516" y2="320.32" stroke="#e4e4e4" stroke-width="0.8" />
<line x1="308.6" y1="285.66" x2="516" y2="285.66" stroke="#e4e4e4" stroke-width="0.8" />
<line x1="308.4" y1="285" x2="308.4" y2="424.8" stroke="#4a4a4a" stroke-width="1.0" />
<line x1="305.2" y1="424.3" x2="308.4" y2="424.3" stroke="#4a4a4a" stroke-width="0.9" />
<text x="0" y="0" font-size="7.67" text-anchor="end" font-weight="normal" fill="#333" transform="translate(302.4 426.87) scale(0.9 1)" >0</text>
<line x1="305.2" y1="389.64" x2="308.4" y2="389.64" stroke="#4a4a4a" stroke-width="0.9" />
<text x="0" y="0" font-size="7.67" text-anchor="end" font-weight="normal" fill="#333" transform="translate(302.4 392.21) scale(0.9 1)" >200</text>
<line x1="305.2" y1="354.98" x2="308.4" y2="354.98" stroke="#4a4a4a" stroke-width="0.9" />
<text x="0" y="0" font-size="7.67" text-anchor="end" font-weight="normal" fill="#333" transform="translate(302.4 357.55) scale(0.9 1)" >400</text>
<line x1="305.2" y1="320.32" x2="308.4" y2="320.32" stroke="#4a4a4a" stroke-width="0.9" />
<text x="0" y="0" font-size="7.67" text-anchor="end" font-weight="normal" fill="#333" transform="translate(302.4 322.89) scale(0.9 1)" >600</text>
<line x1="305.2" y1="285.66" x2="308.4" y2="285.66" stroke="#4a4a4a" stroke-width="0.9" />
<text x="0" y="0" font-size="7.67" text-anchor="end" font-weight="normal" fill="#333" transform="translate(302.4 288.23) scale(0.9 1)" >800</text>
<line x1="308.4" y1="424.9" x2="516.4" y2="424.9" stroke="#4a4a4a" stroke-width="1.0" />
<line x1="308.5" y1="424.9" x2="308.5" y2="428.3" stroke="#4a4a4a" stroke-width="0.6" />
<line x1="312.2" y1="424.9" x2="312.2" y2="426.8" stroke="#4a4a4a" stroke-width="0.6" />
<line x1="315.89" y1="424.9" x2="315.89" y2="426.8" stroke="#4a4a4a" stroke-width="0.6" />
<line x1="319.59" y1="424.9" x2="319.59" y2="426.8" stroke="#4a4a4a" stroke-width="0.6" />
<line x1="323.28" y1="424.9" x2="323.28" y2="426.8" stroke="#4a4a4a" stroke-width="0.6" />
<line x1="326.98" y1="424.9" x2="326.98" y2="426.8" stroke="#4a4a4a" stroke-width="0.6" />
<line x1="330.68" y1="424.9" x2="330.68" y2="426.8" stroke="#4a4a4a" stroke-width="0.6" />
<line x1="334.37" y1="424.9" x2="334.37" y2="428.3" stroke="#4a4a4a" stroke-width="0.6" />
<line x1="338.07" y1="424.9" x2="338.07" y2="426.8" stroke="#4a4a4a" stroke-width="0.6" />
<line x1="341.76" y1="424.9" x2="341.76" y2="426.8" stroke="#4a4a4a" stroke-width="0.6" />
<line x1="345.46" y1="424.9" x2="345.46" y2="426.8" stroke="#4a4a4a" stroke-width="0.6" />
<line x1="349.16" y1="424.9" x2="349.16" y2="426.8" stroke="#4a4a4a" stroke-width="0.6" />
<line x1="352.85" y1="424.9" x2="352.85" y2="426.8" stroke="#4a4a4a" stroke-width="0.6" />
<line x1="356.55" y1="424.9" x2="356.55" y2="426.8" stroke="#4a4a4a" stroke-width="0.6" />
<line x1="360.24" y1="424.9" x2="360.24" y2="428.3" stroke="#4a4a4a" stroke-width="0.6" />
<line x1="363.94" y1="424.9" x2="363.94" y2="426.8" stroke="#4a4a4a" stroke-width="0.6" />
<line x1="367.64" y1="424.9" x2="367.64" y2="426.8" stroke="#4a4a4a" stroke-width="0.6" />
<line x1="371.33" y1="424.9" x2="371.33" y2="426.8" stroke="#4a4a4a" stroke-width="0.6" />
<line x1="375.03" y1="424.9" x2="375.03" y2="426.8" stroke="#4a4a4a" stroke-width="0.6" />
<line x1="378.72" y1="424.9" x2="378.72" y2="426.8" stroke="#4a4a4a" stroke-width="0.6" />
<line x1="382.42" y1="424.9" x2="382.42" y2="426.8" stroke="#4a4a4a" stroke-width="0.6" />
<line x1="386.12" y1="424.9" x2="386.12" y2="428.3" stroke="#4a4a4a" stroke-width="0.6" />
<line x1="389.81" y1="424.9" x2="389.81" y2="426.8" stroke="#4a4a4a" stroke-width="0.6" />
<line x1="393.51" y1="424.9" x2="393.51" y2="426.8" stroke="#4a4a4a" stroke-width="0.6" />
<line x1="397.2" y1="424.9" x2="397.2" y2="426.8" stroke="#4a4a4a" stroke-width="0.6" />
<line x1="400.9" y1="424.9" x2="400.9" y2="426.8" stroke="#4a4a4a" stroke-width="0.6" />
<line x1="404.6" y1="424.9" x2="404.6" y2="426.8" stroke="#4a4a4a" stroke-width="0.6" />
<line x1="408.29" y1="424.9" x2="408.29" y2="426.8" stroke="#4a4a4a" stroke-width="0.6" />
<line x1="411.99" y1="424.9" x2="411.99" y2="428.3" stroke="#4a4a4a" stroke-width="0.6" />
<line x1="415.68" y1="424.9" x2="415.68" y2="426.8" stroke="#4a4a4a" stroke-width="0.6" />
<line x1="419.38" y1="424.9" x2="419.38" y2="426.8" stroke="#4a4a4a" stroke-width="0.6" />
<line x1="423.08" y1="424.9" x2="423.08" y2="426.8" stroke="#4a4a4a" stroke-width="0.6" />
<line x1="426.77" y1="424.9" x2="426.77" y2="426.8" stroke="#4a4a4a" stroke-width="0.6" />
<line x1="430.47" y1="424.9" x2="430.47" y2="426.8" stroke="#4a4a4a" stroke-width="0.6" />
<line x1="434.16" y1="424.9" x2="434.16" y2="426.8" stroke="#4a4a4a" stroke-width="0.6" />
<line x1="437.86" y1="424.9" x2="437.86" y2="428.3" stroke="#4a4a4a" stroke-width="0.6" />
<line x1="441.56" y1="424.9" x2="441.56" y2="426.8" stroke="#4a4a4a" stroke-width="0.6" />
<line x1="445.25" y1="424.9" x2="445.25" y2="426.8" stroke="#4a4a4a" stroke-width="0.6" />
<line x1="448.95" y1="424.9" x2="448.95" y2="426.8" stroke="#4a4a4a" stroke-width="0.6" />
<line x1="452.64" y1="424.9" x2="452.64" y2="426.8" stroke="#4a4a4a" stroke-width="0.6" />
<line x1="456.34" y1="424.9" x2="456.34" y2="426.8" stroke="#4a4a4a" stroke-width="0.6" />
<line x1="460.04" y1="424.9" x2="460.04" y2="426.8" stroke="#4a4a4a" stroke-width="0.6" />
<line x1="463.73" y1="424.9" x2="463.73" y2="428.3" stroke="#4a4a4a" stroke-width="0.6" />
<line x1="467.43" y1="424.9" x2="467.43" y2="426.8" stroke="#4a4a4a" stroke-width="0.6" />
<line x1="471.12" y1="424.9" x2="471.12" y2="426.8" stroke="#4a4a4a" stroke-width="0.6" />
<line x1="474.82" y1="424.9" x2="474.82" y2="426.8" stroke="#4a4a4a" stroke-width="0.6" />
<line x1="478.52" y1="424.9" x2="478.52" y2="426.8" stroke="#4a4a4a" stroke-width="0.6" />
<line x1="482.21" y1="424.9" x2="482.21" y2="426.8" stroke="#4a4a4a" stroke-width="0.6" />
<line x1="485.91" y1="424.9" x2="485.91" y2="426.8" stroke="#4a4a4a" stroke-width="0.6" />
<line x1="489.6" y1="424.9" x2="489.6" y2="428.3" stroke="#4a4a4a" stroke-width="0.6" />
<line x1="493.3" y1="424.9" x2="493.3" y2="426.8" stroke="#4a4a4a" stroke-width="0.6" />
<line x1="497" y1="424.9" x2="497" y2="426.8" stroke="#4a4a4a" stroke-width="0.6" />
<line x1="500.69" y1="424.9" x2="500.69" y2="426.8" stroke="#4a4a4a" stroke-width="0.6" />
<line x1="504.39" y1="424.9" x2="504.39" y2="426.8" stroke="#4a4a4a" stroke-width="0.6" />
<line x1="508.08" y1="424.9" x2="508.08" y2="426.8" stroke="#4a4a4a" stroke-width="0.6" />
<line x1="511.78" y1="424.9" x2="511.78" y2="426.8" stroke="#4a4a4a" stroke-width="0.6" />
<line x1="515.48" y1="424.9" x2="515.48" y2="428.3" stroke="#4a4a4a" stroke-width="0.6" />
<text x="0" y="0" font-size="7.56" text-anchor="middle" font-weight="normal" fill="#333" transform="translate(308.5 436.47) scale(0.9 1)" >0</text>
<text x="0" y="0" font-size="7.56" text-anchor="middle" font-weight="normal" fill="#333" transform="translate(334.37 436.47) scale(0.9 1)" >7</text>
<text x="0" y="0" font-size="7.56" text-anchor="middle" font-weight="normal" fill="#333" transform="translate(360.24 436.47) scale(0.9 1)" >14</text>
<text x="0" y="0" font-size="7.56" text-anchor="middle" font-weight="normal" fill="#333" transform="translate(386.12 436.47) scale(0.9 1)" >21</text>
<text x="0" y="0" font-size="7.56" text-anchor="middle" font-weight="normal" fill="#333" transform="translate(411.99 436.47) scale(0.9 1)" >28</text>
<text x="0" y="0" font-size="7.56" text-anchor="middle" font-weight="normal" fill="#333" transform="translate(437.86 436.47) scale(0.9 1)" >35</text>
<text x="0" y="0" font-size="7.56" text-anchor="middle" font-weight="normal" fill="#333" transform="translate(463.73 436.47) scale(0.9 1)" >42</text>
<text x="0" y="0" font-size="7.56" text-anchor="middle" font-weight="normal" fill="#333" transform="translate(489.6 436.47) scale(0.9 1)" >49</text>
<text x="0" y="0" font-size="7.56" text-anchor="middle" font-weight="normal" fill="#333" transform="translate(515.48 436.47) scale(0.9 1)" >56</text>
<text x="0" y="0" font-size="7.89" text-anchor="middle" font-weight="normal" fill="#222" transform="translate(410.5 446.88) scale(0.9 1)" >Days after tumor inoculation</text>
<text x="0" y="0" font-size="7.35" text-anchor="middle" fill="#222" transform="translate(281.6 355.4) rotate(-90) scale(1 0.9)"><tspan dy="2.6">Tumor size, mm</tspan><tspan font-size="5" dy="-2.9">3</tspan></text>
<line x1="345.46" y1="376.9" x2="345.46" y2="385.9" stroke="#555" stroke-width="0.8" />
<line x1="343.26" y1="376.9" x2="347.66" y2="376.9" stroke="#555" stroke-width="0.8" />
<line x1="343.26" y1="385.9" x2="347.66" y2="385.9" stroke="#555" stroke-width="0.8" />
<line x1="356.55" y1="356" x2="356.55" y2="372" stroke="#555" stroke-width="0.8" />
<line x1="354.35" y1="356" x2="358.75" y2="356" stroke="#555" stroke-width="0.8" />
<line x1="354.35" y1="372" x2="358.75" y2="372" stroke="#555" stroke-width="0.8" />
<line x1="371.33" y1="336.2" x2="371.33" y2="350.3" stroke="#555" stroke-width="0.8" />
<line x1="369.13" y1="336.2" x2="373.53" y2="336.2" stroke="#555" stroke-width="0.8" />
<line x1="369.13" y1="350.3" x2="373.53" y2="350.3" stroke="#555" stroke-width="0.8" />
<line x1="386.12" y1="314.9" x2="386.12" y2="331.8" stroke="#555" stroke-width="0.8" />
<line x1="383.92" y1="314.9" x2="388.32" y2="314.9" stroke="#555" stroke-width="0.8" />
<line x1="383.92" y1="331.8" x2="388.32" y2="331.8" stroke="#555" stroke-width="0.8" />
<line x1="397.2" y1="308.2" x2="397.2" y2="329.2" stroke="#555" stroke-width="0.8" />
<line x1="395" y1="308.2" x2="399.4" y2="308.2" stroke="#555" stroke-width="0.8" />
<line x1="395" y1="329.2" x2="399.4" y2="329.2" stroke="#555" stroke-width="0.8" />
<line x1="371.33" y1="363.5" x2="371.33" y2="373.5" stroke="#555" stroke-width="0.8" />
<line x1="369.13" y1="363.5" x2="373.53" y2="363.5" stroke="#555" stroke-width="0.8" />
<line x1="369.13" y1="373.5" x2="373.53" y2="373.5" stroke="#555" stroke-width="0.8" />
<line x1="386.12" y1="358.3" x2="386.12" y2="366.5" stroke="#555" stroke-width="0.8" />
<line x1="383.92" y1="358.3" x2="388.32" y2="358.3" stroke="#555" stroke-width="0.8" />
<line x1="383.92" y1="366.5" x2="388.32" y2="366.5" stroke="#555" stroke-width="0.8" />
<line x1="397.2" y1="345.2" x2="397.2" y2="356.4" stroke="#555" stroke-width="0.8" />
<line x1="395" y1="345.2" x2="399.4" y2="345.2" stroke="#555" stroke-width="0.8" />
<line x1="395" y1="356.4" x2="399.4" y2="356.4" stroke="#555" stroke-width="0.8" />
<line x1="408.29" y1="348.3" x2="408.29" y2="360" stroke="#555" stroke-width="0.8" />
<line x1="406.09" y1="348.3" x2="410.49" y2="348.3" stroke="#555" stroke-width="0.8" />
<line x1="406.09" y1="360" x2="410.49" y2="360" stroke="#555" stroke-width="0.8" />
<line x1="371.33" y1="386.2" x2="371.33" y2="395.8" stroke="#555" stroke-width="0.8" />
<line x1="369.13" y1="386.2" x2="373.53" y2="386.2" stroke="#555" stroke-width="0.8" />
<line x1="369.13" y1="395.8" x2="373.53" y2="395.8" stroke="#555" stroke-width="0.8" />
<line x1="345.46" y1="383" x2="345.46" y2="393" stroke="#555" stroke-width="0.8" />
<line x1="343.26" y1="383" x2="347.66" y2="383" stroke="#555" stroke-width="0.8" />
<line x1="343.26" y1="393" x2="347.66" y2="393" stroke="#555" stroke-width="0.8" />
<polyline points="330.68,405.24 345.46,382.01 356.55,365.03 371.33,368.5 386.12,362.09 397.2,349.95 408.29,353.77" fill="none" stroke="#e39a3b" stroke-width="0.9" stroke-linejoin="round" />
<polyline points="330.68,405.24 345.46,389.12 356.55,365.03 371.33,391.2 386.12,414.25 397.2,421.09 408.29,422.05 423.08,423.09 434.16,423.95 448.95,423.95 460.04,423.95 478.52,423.95 504.39,423.95" fill="none" stroke="#2aa9dd" stroke-width="0.9" stroke-linejoin="round" />
<polyline points="330.68,405.24 345.46,389.12 356.55,365.03 371.33,344.06 386.12,323.96 397.2,318.93" fill="none" stroke="#2b2b2b" stroke-width="0.9" stroke-linejoin="round" />
<circle cx="330.68" cy="405.24" r="2.4" fill="#e39a3b"/>
<circle cx="345.46" cy="382.01" r="2.4" fill="#e39a3b"/>
<circle cx="356.55" cy="365.03" r="2.4" fill="#e39a3b"/>
<circle cx="371.33" cy="368.5" r="2.4" fill="#e39a3b"/>
<circle cx="386.12" cy="362.09" r="2.4" fill="#e39a3b"/>
<circle cx="397.2" cy="349.95" r="2.4" fill="#e39a3b"/>
<circle cx="408.29" cy="353.77" r="2.4" fill="#e39a3b"/>
<circle cx="330.68" cy="405.24" r="2.4" fill="#2aa9dd"/>
<circle cx="345.46" cy="389.12" r="2.4" fill="#2aa9dd"/>
<circle cx="356.55" cy="365.03" r="2.4" fill="#2aa9dd"/>
<circle cx="371.33" cy="391.2" r="2.4" fill="#2aa9dd"/>
<circle cx="386.12" cy="414.25" r="2.4" fill="#2aa9dd"/>
<circle cx="397.2" cy="421.09" r="2.4" fill="#2aa9dd"/>
<circle cx="408.29" cy="422.05" r="2.4" fill="#2aa9dd"/>
<circle cx="423.08" cy="423.09" r="2.4" fill="#2aa9dd"/>
<circle cx="434.16" cy="423.95" r="2.4" fill="#2aa9dd"/>
<circle cx="448.95" cy="423.95" r="2.4" fill="#2aa9dd"/>
<circle cx="460.04" cy="423.95" r="2.4" fill="#2aa9dd"/>
<circle cx="478.52" cy="423.95" r="2.4" fill="#2aa9dd"/>
<circle cx="504.39" cy="423.95" r="2.4" fill="#2aa9dd"/>
<polygon points="330.68,402.54 333.18,407.04 328.18,407.04" fill="#fff" stroke="#2b2b2b" stroke-width="1.05" stroke-linejoin="miter"/>
<polygon points="345.46,386.42 347.96,390.92 342.96,390.92" fill="#fff" stroke="#2b2b2b" stroke-width="1.05" stroke-linejoin="miter"/>
<polygon points="356.55,362.33 359.05,366.83 354.05,366.83" fill="#fff" stroke="#2b2b2b" stroke-width="1.05" stroke-linejoin="miter"/>
<polygon points="371.33,341.36 373.83,345.86 368.83,345.86" fill="#fff" stroke="#2b2b2b" stroke-width="1.05" stroke-linejoin="miter"/>
<polygon points="386.12,321.26 388.62,325.76 383.62,325.76" fill="#fff" stroke="#2b2b2b" stroke-width="1.05" stroke-linejoin="miter"/>
<polygon points="397.2,316.23 399.7,320.73 394.7,320.73" fill="#fff" stroke="#2b2b2b" stroke-width="1.05" stroke-linejoin="miter"/>
<path d="M357.1,411 L360.1,412.3 L363.1,411 L360.1,418 Z" fill="#111"/>
<circle cx="413.5" cy="351.4" r="1" fill="#333"/>
<circle cx="415.8" cy="351.4" r="1" fill="#333"/>
<circle cx="418.1" cy="351.4" r="1" fill="#333"/>
<circle cx="510.5" cy="420.6" r="1" fill="#333"/>
<circle cx="512.8" cy="420.6" r="1" fill="#333"/>
<circle cx="515.1" cy="420.6" r="1" fill="#333"/>
<rect x="310.6" y="452.2" width="203.3" height="24.2" fill="none" stroke="#555" stroke-width="1.0"/>
<line x1="317.2" y1="460.4" x2="325.3" y2="460.4" stroke="#2b2b2b" stroke-width="0.8" />
<polygon points="321.3,458.13 323.4,461.91 319.2,461.91" fill="#fff" stroke="#2b2b2b" stroke-width="1.05" stroke-linejoin="miter"/>
<path d="M318.9,465.5 L321.3,466.7 L323.7,465.5 L321.3,472.8 Z" fill="#111"/>
<text x="0" y="0" font-size="7.44" text-anchor="start" font-weight="normal" fill="#222" transform="translate(328.8 463.07) scale(0.9 1)" >Isotype control</text>
<text x="0" y="0" font-size="7.44" text-anchor="start" font-weight="normal" fill="#222" transform="translate(328.8 472.67) scale(0.9 1)" >Treatment 2 mg/kg</text>
<line x1="394" y1="460.8" x2="401.4" y2="460.8" stroke="#2aa9dd" stroke-width="0.8" />
<circle cx="397.7" cy="460.8" r="2.5" fill="#2aa9dd"/>
<line x1="394" y1="469.3" x2="401.4" y2="469.3" stroke="#e39a3b" stroke-width="0.8" />
<circle cx="397.7" cy="469.3" r="2.5" fill="#e39a3b"/>
<text x="0" y="0" font-size="7.44" text-anchor="start" font-weight="normal" fill="#222" transform="translate(405.8 463.37) scale(0.9 1)" >HexaBody-DR5/DR5</text>
<text x="0" y="0" font-size="7.44" text-anchor="start" font-weight="normal" fill="#222" transform="translate(405.8 471.87) scale(0.9 1)" >HexaBody-DR5/DR5-P329R</text>
</svg>
</body></html>
